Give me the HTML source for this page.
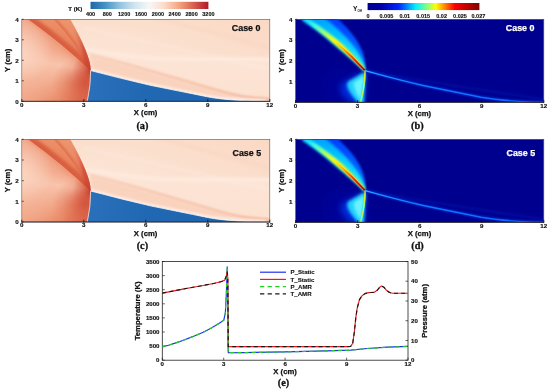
<!DOCTYPE html>
<html><head><meta charset="utf-8"><title>Figure</title>
<style>
html,body{margin:0;padding:0;background:#fff;}
body{width:550px;height:390px;overflow:hidden;}
svg{display:block;}
text{font-family:"Liberation Sans",sans-serif;font-weight:bold;fill:#111;}
.tk{font-size:6.2px;stroke:#111;stroke-width:0.15px;}
.tk2{font-size:6.1px;stroke:#111;stroke-width:0.15px;}
.al{font-size:7.7px;stroke:#111;stroke-width:0.25px;}
.cb{font-size:5.5px;stroke:#111;stroke-width:0.12px;}
.cbt{font-size:6.1px;stroke:#111;stroke-width:0.2px;}
.lg{font-size:6.1px;stroke:#111;stroke-width:0.12px;}
.case{font-size:8.9px;stroke-width:0.25px;}
.cap{font-family:"Liberation Serif",serif;font-size:10.3px;font-weight:bold;stroke:#111;stroke-width:0.3px;}
</style></head><body>
<svg width="550" height="390" viewBox="0 0 550 390">
<rect width="550" height="390" fill="#fff"/>
<defs><linearGradient id="cbT" x1="0" y1="0" x2="1" y2="0">
<stop offset="0.000" stop-color="#2166ac"/>
<stop offset="0.125" stop-color="#4393c3"/>
<stop offset="0.250" stop-color="#92c5de"/>
<stop offset="0.375" stop-color="#d1e5f0"/>
<stop offset="0.500" stop-color="#f7f7f7"/>
<stop offset="0.625" stop-color="#fddbc7"/>
<stop offset="0.750" stop-color="#f4a582"/>
<stop offset="0.875" stop-color="#d6604d"/>
<stop offset="1.000" stop-color="#b2182b"/>
</linearGradient><linearGradient id="cbJ" x1="0" y1="0" x2="1" y2="0">
<stop offset="0" stop-color="#00008F"/>
<stop offset="0.12" stop-color="#0000A8"/>
<stop offset="0.28" stop-color="#0028FF"/>
<stop offset="0.43" stop-color="#00F0FF"/>
<stop offset="0.53" stop-color="#80FF80"/>
<stop offset="0.61" stop-color="#FFFF00"/>
<stop offset="0.78" stop-color="#FF0000"/>
<stop offset="1" stop-color="#800000"/>
</linearGradient></defs>
<rect x="90.5" y="1.8" width="117.9" height="7.2" fill="url(#cbT)"/>
<text x="90.5" y="15.7" class="cb" text-anchor="middle">400</text>
<text x="107.3" y="15.7" class="cb" text-anchor="middle">800</text>
<text x="124.2" y="15.7" class="cb" text-anchor="middle">1200</text>
<text x="141.0" y="15.7" class="cb" text-anchor="middle">1600</text>
<text x="157.9" y="15.7" class="cb" text-anchor="middle">2000</text>
<text x="174.7" y="15.7" class="cb" text-anchor="middle">2400</text>
<text x="191.6" y="15.7" class="cb" text-anchor="middle">2800</text>
<text x="208.4" y="15.7" class="cb" text-anchor="middle">3200</text>
<text x="75.3" y="10.7" class="cbt" text-anchor="middle">T (K)</text>
<rect x="367.6" y="3.0" width="111.8" height="7.1" fill="url(#cbJ)"/>
<text x="368.0" y="17.8" class="cb" text-anchor="middle">0</text>
<text x="386.4" y="17.8" class="cb" text-anchor="middle">0.005</text>
<text x="404.8" y="17.8" class="cb" text-anchor="middle">0.01</text>
<text x="423.2" y="17.8" class="cb" text-anchor="middle">0.015</text>
<text x="441.6" y="17.8" class="cb" text-anchor="middle">0.02</text>
<text x="460.0" y="17.8" class="cb" text-anchor="middle">0.025</text>
<text x="478.4" y="17.8" class="cb" text-anchor="middle">0.027</text>
<text x="353" y="11.1" style="font-size:6.7px">Y<tspan font-size="3" dy="1.2">OH</tspan></text>
<g transform="translate(21.8,19.3)">
<defs><clipPath id="paf"><rect x="0" y="0" width="248.0" height="82.0"/></clipPath>
<clipPath id="pal"><path d="M0.00,82.00 L65.51,82.00 Q69.03,65.60 68.82,51.25 Q69.44,36.90 48.36,0.00 L0.00,0.00 Z"/></clipPath>
<radialGradient id="parg" cx="68.8" cy="51.2" r="18.6" gradientUnits="userSpaceOnUse"><stop offset="0" stop-color="#C43C2C" stop-opacity="1"/><stop offset="0.4" stop-color="#CE4A36" stop-opacity="0.55"/><stop offset="1" stop-color="#D8583F" stop-opacity="0"/></radialGradient>
<radialGradient id="pabg" cx="0" cy="0" r="1" gradientTransform="translate(63.0,63.5) scale(33.1,26.7)" gradientUnits="userSpaceOnUse"><stop offset="0" stop-color="#D0503A" stop-opacity="0.85"/><stop offset="0.3" stop-color="#D4563E" stop-opacity="0.6"/><stop offset="0.65" stop-color="#D95F44" stop-opacity="0.25"/><stop offset="1" stop-color="#DD6648" stop-opacity="0"/></radialGradient>
<linearGradient id="pale" x1="0" y1="0" x2="33.1" y2="0" gradientUnits="userSpaceOnUse"><stop offset="0" stop-color="#FFE9DF" stop-opacity="0.08"/><stop offset="1" stop-color="#FFE9DF" stop-opacity="0"/></linearGradient>
<linearGradient id="patp" x1="0" y1="0" x2="0" y2="32.8" gradientUnits="userSpaceOnUse"><stop offset="0" stop-color="#FFE4D6" stop-opacity="0.18"/><stop offset="1" stop-color="#FFE4D6" stop-opacity="0"/></linearGradient>
<linearGradient id="parb" x1="0" y1="0" x2="0" y2="82.0" gradientUnits="userSpaceOnUse"><stop offset="0" stop-color="#FBDFCD"/><stop offset="0.45" stop-color="#FCE5D6"/><stop offset="1" stop-color="#FCE1D0"/></linearGradient>
<linearGradient id="pabl" x1="68.2" y1="51.2" x2="186.0" y2="82.0" gradientUnits="userSpaceOnUse"><stop offset="0" stop-color="#2A70BA"/><stop offset="0.5" stop-color="#2168B2"/><stop offset="1" stop-color="#1F64AE"/></linearGradient>
<filter id="pab0" x="-50%" y="-50%" width="200%" height="200%"><feGaussianBlur stdDeviation="0.45"/></filter>
<filter id="pab1" x="-50%" y="-50%" width="200%" height="200%"><feGaussianBlur stdDeviation="0.8"/></filter>
<filter id="pab2" x="-50%" y="-50%" width="200%" height="200%"><feGaussianBlur stdDeviation="1.8"/></filter>
<filter id="pab3" x="-50%" y="-50%" width="200%" height="200%"><feGaussianBlur stdDeviation="3.5"/></filter>
</defs>
<g clip-path="url(#paf)">
<rect x="0" y="0" width="248.0" height="82.0" fill="url(#parb)"/>
<linearGradient id="paur" x1="103.3" y1="45.1" x2="248.0" y2="0" gradientUnits="userSpaceOnUse"><stop offset="0" stop-color="#F9D3BC" stop-opacity="0"/><stop offset="1" stop-color="#F9D3BC" stop-opacity="0.5"/></linearGradient>
<rect x="0" y="0" width="248.0" height="38.9" fill="url(#paur)"/>
<linearGradient id="pasc" x1="68.2" y1="0" x2="248.0" y2="0" gradientUnits="userSpaceOnUse"><stop offset="0" stop-color="#F2B097" stop-opacity="0.35"/><stop offset="0.4" stop-color="#F2B097" stop-opacity="0.7"/><stop offset="1" stop-color="#EFA488" stop-opacity="0.95"/></linearGradient>
<path d="M134.33,-2.05 L252.13,29.73" stroke="#F8CDB9" stroke-width="2.2" fill="none" filter="url(#pab2)" opacity="0.4"/>
<path d="M62.00,8.20 L252.13,51.25" stroke="#FEF0E8" stroke-width="3" fill="none" filter="url(#pab2)" opacity="0.3"/>
<path d="M62.00,29.73 Q113.67,38.95 144.67,39.36 L252.13,39.36" fill="none" stroke="#FFF1E6" stroke-width="3.2" filter="url(#pab2)" opacity="0.6"/>
<path d="M68.20,34.85 C103.33,43.05 155.00,59.04 191.79,69.70 S227.33,76.88 250.07,79.95 L250.07,86.10 L68.82,86.10 L68.82,51.25 Z" fill="#F9D1BB" filter="url(#pab2)" opacity="0.85"/>
<path d="M68.20,34.85 C103.33,43.05 155.00,59.04 191.79,69.70 S227.33,76.88 250.07,79.95" fill="none" stroke="url(#pasc)" stroke-width="1.5" filter="url(#pab1)"/>
<path d="M68.82,51.25 C88.87,56.38 108.50,61.50 128.55,66.01 C146.73,69.70 165.33,73.39 185.38,77.43 C198.40,79.95 214.93,81.39 243.87,82.20" fill="none" stroke="#FEF1EA" stroke-width="2.6" transform="translate(0,-0.8)" filter="url(#pab1)" opacity="0.9"/>
<g clip-path="url(#pal)">
<g filter="url(#pab1)">
<path d="M69.23,51.25L82.43,173.51L78.98,173.84Z" fill="#D75C41"/>
<path d="M69.23,51.25L80.27,173.72L76.82,173.99Z" fill="#D75C41"/>
<path d="M69.23,51.25L78.12,173.90L74.66,174.11Z" fill="#D75C41"/>
<path d="M69.23,51.25L75.96,174.05L72.50,174.20Z" fill="#D75C41"/>
<path d="M69.23,51.25L73.80,174.15L70.33,174.24Z" fill="#D75C41"/>
<path d="M69.23,51.25L71.63,174.22L68.17,174.25Z" fill="#D75C41"/>
<path d="M69.23,51.25L69.47,174.25L66.01,174.22Z" fill="#D75C41"/>
<path d="M69.23,51.25L67.31,174.24L63.84,174.15Z" fill="#D75C41"/>
<path d="M69.23,51.25L65.14,174.20L61.68,174.05Z" fill="#D75C41"/>
<path d="M69.23,51.25L62.98,174.11L59.52,173.90Z" fill="#D75C41"/>
<path d="M69.23,51.25L60.82,173.99L57.37,173.72Z" fill="#D75C41"/>
<path d="M69.23,51.25L58.66,173.84L55.21,173.51Z" fill="#D75C41"/>
<path d="M69.23,51.25L56.50,173.64L53.06,173.25Z" fill="#D75C41"/>
<path d="M69.23,51.25L54.35,173.41L50.92,172.96Z" fill="#D75C41"/>
<path d="M69.23,51.25L52.21,173.14L48.78,172.63Z" fill="#D75C41"/>
<path d="M69.23,51.25L50.06,172.83L46.65,172.27Z" fill="#D75C41"/>
<path d="M69.23,51.25L47.93,172.49L44.52,171.87Z" fill="#D75C41"/>
<path d="M69.23,51.25L45.80,172.11L42.40,171.43Z" fill="#D85D42"/>
<path d="M69.23,51.25L43.67,171.69L40.29,170.95Z" fill="#D85E42"/>
<path d="M69.23,51.25L41.56,171.24L38.19,170.44Z" fill="#D85F43"/>
<path d="M69.23,51.25L39.45,170.75L36.10,169.89Z" fill="#D85F43"/>
<path d="M69.23,51.25L37.35,170.22L34.02,169.31Z" fill="#D96044"/>
<path d="M69.23,51.25L35.27,169.66L31.95,168.69Z" fill="#D96144"/>
<path d="M69.23,51.25L33.19,169.06L29.88,168.03Z" fill="#DA6245"/>
<path d="M69.23,51.25L31.12,168.43L27.84,167.34Z" fill="#DA6245"/>
<path d="M69.23,51.25L29.06,167.76L25.80,166.61Z" fill="#DA6346"/>
<path d="M69.23,51.25L27.02,167.05L23.78,165.85Z" fill="#DA6446"/>
<path d="M69.23,51.25L24.99,166.31L21.77,165.05Z" fill="#DB6547"/>
<path d="M69.23,51.25L22.97,165.53L19.77,164.22Z" fill="#DB6648"/>
<path d="M69.23,51.25L20.97,164.72L17.79,163.35Z" fill="#DC6748"/>
<path d="M69.23,51.25L18.98,163.88L15.83,162.45Z" fill="#DC684A"/>
<path d="M69.23,51.25L17.00,163.00L13.88,161.52Z" fill="#DD6A4A"/>
<path d="M69.23,51.25L15.05,162.08L11.95,160.55Z" fill="#DD6B4C"/>
<path d="M69.23,51.25L13.10,161.13L10.03,159.55Z" fill="#DE6C4C"/>
<path d="M69.23,51.25L11.18,160.15L8.14,158.51Z" fill="#DE6E4E"/>
<path d="M69.23,51.25L9.27,159.14L6.26,157.45Z" fill="#DF6F4E"/>
<path d="M69.23,51.25L7.38,158.09L4.40,156.35Z" fill="#E07050"/>
<path d="M69.23,51.25L5.51,157.01L2.56,155.22Z" fill="#E07150"/>
<path d="M69.23,51.25L3.66,155.90L0.74,154.05Z" fill="#E17352"/>
<path d="M69.23,51.25L1.83,154.76L-1.06,152.86Z" fill="#E17452"/>
<path d="M69.23,51.25L0.02,153.58L-2.83,151.63Z" fill="#E27554"/>
<path d="M69.23,51.25L-1.77,152.37L-4.59,150.38Z" fill="#E27755"/>
<path d="M69.23,51.25L-3.54,151.14L-6.32,149.09Z" fill="#E37856"/>
<path d="M69.23,51.25L-5.29,149.87L-8.03,147.78Z" fill="#E37A57"/>
<path d="M69.23,51.25L-7.01,148.57L-9.72,146.43Z" fill="#E47B59"/>
<path d="M69.23,51.25L-8.71,147.24L-11.38,145.06Z" fill="#E47D5A"/>
<path d="M69.23,51.25L-10.39,145.89L-13.02,143.66Z" fill="#E57E5C"/>
<path d="M69.23,51.25L-12.04,144.50L-14.63,142.22Z" fill="#E6805D"/>
<path d="M69.23,51.25L-13.67,143.09L-16.22,140.77Z" fill="#E6825E"/>
<path d="M69.23,51.25L-15.27,141.64L-17.78,139.28Z" fill="#E78360"/>
<path d="M69.23,51.25L-16.85,140.17L-19.32,137.77Z" fill="#E78561"/>
<path d="M69.23,51.25L-18.40,138.68L-20.83,136.23Z" fill="#E88663"/>
<path d="M69.23,51.25L-19.93,137.16L-22.31,134.66Z" fill="#E88864"/>
<path d="M69.23,51.25L-21.42,135.61L-23.76,133.07Z" fill="#E98965"/>
<path d="M69.23,51.25L-22.89,134.03L-25.19,131.46Z" fill="#E98B67"/>
<path d="M69.23,51.25L-24.34,132.43L-26.59,129.82Z" fill="#EA8C68"/>
<path d="M69.23,51.25L-25.75,130.81L-27.95,128.15Z" fill="#EA8D6A"/>
<path d="M69.23,51.25L-27.14,129.16L-29.29,126.47Z" fill="#EA8F6C"/>
<path d="M69.23,51.25L-28.49,127.48L-30.60,124.76Z" fill="#EB906D"/>
<path d="M69.23,51.25L-29.82,125.79L-31.88,123.03Z" fill="#EB916F"/>
<path d="M69.23,51.25L-31.12,124.07L-33.13,121.27Z" fill="#EC9370"/>
<path d="M69.23,51.25L-32.38,122.33L-34.34,119.50Z" fill="#EC9472"/>
<path d="M69.23,51.25L-33.62,120.56L-35.53,117.70Z" fill="#ED9673"/>
<path d="M69.23,51.25L-34.82,118.78L-36.68,115.88Z" fill="#ED9775"/>
<path d="M69.23,51.25L-35.99,116.98L-37.80,114.05Z" fill="#EE9876"/>
<path d="M69.23,51.25L-37.13,115.15L-38.89,112.19Z" fill="#EE9A78"/>
<path d="M69.23,51.25L-38.24,113.31L-39.95,110.32Z" fill="#EE9B7A"/>
<path d="M69.23,51.25L-39.32,111.44L-40.97,108.43Z" fill="#EF9C7B"/>
<path d="M69.23,51.25L-40.36,109.56L-41.96,106.52Z" fill="#EF9E7D"/>
<path d="M69.23,51.25L-41.37,107.66L-42.91,104.59Z" fill="#EF9F7E"/>
<path d="M69.23,51.25L-42.34,105.75L-43.84,102.65Z" fill="#F0A07F"/>
<path d="M69.23,51.25L-43.29,103.82L-44.72,100.69Z" fill="#F0A181"/>
<path d="M69.23,51.25L-44.19,101.87L-45.57,98.72Z" fill="#F0A282"/>
<path d="M69.23,51.25L-45.07,99.90L-46.39,96.73Z" fill="#F1A383"/>
<path d="M69.23,51.25L-45.91,97.92L-47.18,94.73Z" fill="#F1A485"/>
<path d="M69.23,51.25L-46.71,95.93L-47.92,92.71Z" fill="#F1A686"/>
<path d="M69.23,51.25L-47.48,93.92L-48.63,90.69Z" fill="#F1A788"/>
<path d="M69.23,51.25L-48.21,91.90L-49.31,88.65Z" fill="#F2A889"/>
<path d="M69.23,51.25L-48.91,89.87L-49.95,86.60Z" fill="#F2A98A"/>
<path d="M69.23,51.25L-49.57,87.83L-50.55,84.53Z" fill="#F2AA8C"/>
<path d="M69.23,51.25L-50.20,85.77L-51.12,82.46Z" fill="#F3AB8D"/>
<path d="M69.23,51.25L-50.79,83.71L-51.65,80.38Z" fill="#F3AC8E"/>
<path d="M69.23,51.25L-51.34,81.63L-52.15,78.29Z" fill="#F3AD90"/>
<path d="M69.23,51.25L-51.85,79.55L-52.60,76.19Z" fill="#F3AE91"/>
<path d="M69.23,51.25L-52.33,77.45L-53.02,74.09Z" fill="#F4AF92"/>
<path d="M69.23,51.25L-52.78,75.35L-53.41,71.97Z" fill="#F4B093"/>
<path d="M69.23,51.25L-53.18,73.24L-53.75,69.86Z" fill="#F4B194"/>
<path d="M69.23,51.25L-53.55,71.13L-54.06,67.73Z" fill="#F4B295"/>
<path d="M69.23,51.25L-53.88,69.01L-54.33,65.60Z" fill="#F4B396"/>
<path d="M69.23,51.25L-54.17,66.88L-54.57,63.47Z" fill="#F5B498"/>
<path d="M69.23,51.25L-54.43,64.75L-54.76,61.33Z" fill="#F5B599"/>
<path d="M69.23,51.25L-54.65,62.61L-54.92,59.19Z" fill="#F5B69A"/>
<path d="M69.23,51.25L-54.83,60.47L-55.04,57.04Z" fill="#F5B79B"/>
<path d="M69.23,51.25L-54.97,58.33L-55.13,54.90Z" fill="#F5B89C"/>
<path d="M69.23,51.25L-55.08,56.19L-55.17,52.75Z" fill="#F6B99D"/>
<path d="M69.23,51.25L-55.15,54.04L-55.18,50.61Z" fill="#F6BA9E"/>
<path d="M69.23,51.25L-55.18,51.89L-55.15,48.46Z" fill="#F6BAA0"/>
<path d="M69.23,51.25L-55.17,49.75L-55.08,46.31Z" fill="#F6BBA1"/>
<path d="M69.23,51.25L-55.13,47.60L-54.97,44.17Z" fill="#F6BCA2"/>
<path d="M69.23,51.25L-55.04,45.46L-54.83,42.03Z" fill="#F7BDA3"/>
<path d="M69.23,51.25L-54.92,43.31L-54.65,39.89Z" fill="#F7BEA4"/>
<path d="M69.23,51.25L-54.76,41.17L-54.43,37.75Z" fill="#F7BFA5"/>
<path d="M69.23,51.25L-54.57,39.03L-54.17,35.62Z" fill="#F7C0A6"/>
<path d="M69.23,51.25L-54.33,36.90L-53.88,33.49Z" fill="#F8C1A7"/>
<path d="M69.23,51.25L-54.06,34.77L-53.55,31.37Z" fill="#F8C2A8"/>
<path d="M69.23,51.25L-53.75,32.64L-53.18,29.26Z" fill="#F8C3A9"/>
<path d="M69.23,51.25L-53.41,30.53L-52.78,27.15Z" fill="#F8C2A9"/>
<path d="M69.23,51.25L-53.02,28.41L-52.33,25.05Z" fill="#F8C2A8"/>
<path d="M69.23,51.25L-52.60,26.31L-51.85,22.95Z" fill="#F7C0A7"/>
<path d="M69.23,51.25L-52.15,24.21L-51.34,20.87Z" fill="#F7C0A6"/>
<path d="M69.23,51.25L-51.65,22.12L-50.79,18.79Z" fill="#F7BEA4"/>
<path d="M69.23,51.25L-51.12,20.04L-50.20,16.73Z" fill="#F6BEA3"/>
<path d="M69.23,51.25L-50.55,17.97L-49.57,14.67Z" fill="#F6BCA2"/>
<path d="M69.23,51.25L-49.95,15.90L-48.91,12.63Z" fill="#F6BBA0"/>
<path d="M69.23,51.25L-49.31,13.85L-48.21,10.60Z" fill="#F6BA9E"/>
<path d="M69.23,51.25L-48.63,11.81L-47.48,8.58Z" fill="#F5B89D"/>
<path d="M69.23,51.25L-47.92,9.79L-46.71,6.57Z" fill="#F5B69B"/>
<path d="M69.23,51.25L-47.18,7.77L-45.91,4.58Z" fill="#F5B599"/>
<path d="M69.23,51.25L-46.39,5.77L-45.07,2.60Z" fill="#F4B398"/>
<path d="M69.23,51.25L-45.57,3.78L-44.19,0.63Z" fill="#F4B296"/>
<path d="M69.23,51.25L-44.72,1.81L-43.29,-1.32Z" fill="#F4B094"/>
<path d="M69.23,51.25L-43.84,-0.15L-42.34,-3.25Z" fill="#F4AF92"/>
<path d="M69.23,51.25L-42.91,-2.09L-41.37,-5.16Z" fill="#F3AD91"/>
<path d="M69.23,51.25L-41.96,-4.02L-40.36,-7.06Z" fill="#F3AC8F"/>
<path d="M69.23,51.25L-40.97,-5.93L-39.32,-8.94Z" fill="#F3AB8D"/>
<path d="M69.23,51.25L-39.95,-7.82L-38.24,-10.81Z" fill="#F2A98C"/>
<path d="M69.23,51.25L-38.89,-9.69L-37.13,-12.65Z" fill="#F2A88A"/>
<path d="M69.23,51.25L-37.80,-11.55L-35.99,-14.48Z" fill="#F2A688"/>
<path d="M69.23,51.25L-36.68,-13.38L-34.82,-16.28Z" fill="#F1A586"/>
<path d="M69.23,51.25L-35.53,-15.20L-33.62,-18.06Z" fill="#F1A384"/>
<path d="M69.23,51.25L-34.34,-17.00L-32.38,-19.83Z" fill="#F0A283"/>
<path d="M69.23,51.25L-33.13,-18.77L-31.12,-21.57Z" fill="#F0A081"/>
<path d="M69.23,51.25L-31.88,-20.53L-29.82,-23.29Z" fill="#EF9F7F"/>
<path d="M69.23,51.25L-30.60,-22.26L-28.49,-24.98Z" fill="#EF9D7D"/>
<path d="M69.23,51.25L-29.29,-23.97L-27.14,-26.66Z" fill="#EE9C7B"/>
<path d="M69.23,51.25L-27.95,-25.65L-25.75,-28.31Z" fill="#EE9A79"/>
<path d="M69.23,51.25L-26.59,-27.32L-24.34,-29.93Z" fill="#ED9977"/>
<path d="M69.23,51.25L-25.19,-28.96L-22.89,-31.53Z" fill="#ED9876"/>
<path d="M69.23,51.25L-23.76,-30.57L-21.42,-33.11Z" fill="#ED9876"/>
<path d="M69.23,51.25L-22.31,-32.16L-19.93,-34.66Z" fill="#ED9876"/>
<path d="M69.23,51.25L-20.83,-33.73L-18.40,-36.18Z" fill="#ED9876"/>
<path d="M69.23,51.25L-19.32,-35.27L-16.85,-37.67Z" fill="#ED9876"/>
<path d="M69.23,51.25L-17.78,-36.78L-15.27,-39.14Z" fill="#ED9876"/>
<path d="M69.23,51.25L-16.22,-38.27L-13.67,-40.59Z" fill="#ED9876"/>
<path d="M69.23,51.25L-14.63,-39.72L-12.04,-42.00Z" fill="#ED9876"/>
<path d="M69.23,51.25L-13.02,-41.16L-10.39,-43.39Z" fill="#ED9876"/>
<path d="M69.23,51.25L-11.38,-42.56L-8.71,-44.74Z" fill="#ED9876"/>
<path d="M69.23,51.25L-9.72,-43.93L-7.01,-46.07Z" fill="#ED9876"/>
<path d="M69.23,51.25L-8.03,-45.28L-5.29,-47.37Z" fill="#ED9876"/>
<path d="M69.23,51.25L-6.32,-46.59L-3.54,-48.64Z" fill="#ED9876"/>
<path d="M69.23,51.25L-4.59,-47.88L-1.77,-49.87Z" fill="#ED9876"/>
<path d="M69.23,51.25L-2.83,-49.13L0.02,-51.08Z" fill="#ED9876"/>
<path d="M69.23,51.25L-1.06,-50.36L1.83,-52.26Z" fill="#ED9876"/>
<path d="M69.23,51.25L0.74,-51.55L3.66,-53.40Z" fill="#ED9876"/>
<path d="M69.23,51.25L2.56,-52.72L5.51,-54.51Z" fill="#ED9876"/>
<path d="M69.23,51.25L4.40,-53.85L7.38,-55.59Z" fill="#ED9876"/>
<path d="M69.23,51.25L6.26,-54.95L9.27,-56.64Z" fill="#ED9876"/>
<path d="M69.23,51.25L8.14,-56.01L11.18,-57.65Z" fill="#ED9876"/>
<path d="M69.23,51.25L10.03,-57.05L13.10,-58.63Z" fill="#ED9876"/>
<path d="M69.23,51.25L11.95,-58.05L15.05,-59.58Z" fill="#ED9876"/>
<path d="M69.23,51.25L13.88,-59.02L17.00,-60.50Z" fill="#ED9876"/>
<path d="M69.23,51.25L15.83,-59.95L18.98,-61.38Z" fill="#ED9876"/>
<path d="M69.23,51.25L17.79,-60.85L20.97,-62.22Z" fill="#ED9876"/>
<path d="M69.23,51.25L19.77,-61.72L22.97,-63.03Z" fill="#ED9876"/>
<path d="M69.23,51.25L21.77,-62.55L24.99,-63.81Z" fill="#ED9876"/>
<path d="M69.23,51.25L23.78,-63.35L27.02,-64.55Z" fill="#ED9876"/>
<path d="M69.23,51.25L25.80,-64.11L29.06,-65.26Z" fill="#ED9876"/>
<path d="M69.23,51.25L27.84,-64.84L31.12,-65.93Z" fill="#ED9876"/>
<path d="M69.23,51.25L29.88,-65.53L33.19,-66.56Z" fill="#ED9876"/>
<path d="M69.23,51.25L31.95,-66.19L35.27,-67.16Z" fill="#ED9876"/>
<path d="M69.23,51.25L34.02,-66.81L37.35,-67.72Z" fill="#ED9876"/>
<path d="M69.23,51.25L36.10,-67.39L39.45,-68.25Z" fill="#ED9876"/>
<path d="M69.23,51.25L38.19,-67.94L41.56,-68.74Z" fill="#ED9876"/>
<path d="M69.23,51.25L40.29,-68.45L43.67,-69.19Z" fill="#ED9876"/>
<path d="M69.23,51.25L42.40,-68.93L45.80,-69.61Z" fill="#ED9876"/>
<path d="M69.23,51.25L44.52,-69.37L47.93,-69.99Z" fill="#ED9876"/>
<path d="M69.23,51.25L46.65,-69.77L50.06,-70.33Z" fill="#ED9876"/>
<path d="M69.23,51.25L48.78,-70.13L52.21,-70.64Z" fill="#ED9876"/>
<path d="M69.23,51.25L50.92,-70.46L54.35,-70.91Z" fill="#ED9876"/>
<path d="M69.23,51.25L53.06,-70.75L56.50,-71.14Z" fill="#ED9876"/>
<path d="M69.23,51.25L55.21,-71.01L58.66,-71.34Z" fill="#ED9876"/>
<path d="M69.23,51.25L57.37,-71.22L60.82,-71.49Z" fill="#ED9876"/>
</g>
<rect x="0" y="0" width="248.0" height="82.0" fill="url(#pabg)"/>
<radialGradient id="pall" cx="0" cy="0" r="1" gradientTransform="translate(-4.1,32.8) scale(35.1,30.8)" gradientUnits="userSpaceOnUse"><stop offset="0" stop-color="#FDDCCB" stop-opacity="0.75"/><stop offset="0.5" stop-color="#FDDCCB" stop-opacity="0.4"/><stop offset="1" stop-color="#FDDCCB" stop-opacity="0"/></radialGradient>
<rect x="0" y="0" width="248.0" height="82.0" fill="url(#pall)"/>
<rect x="0" y="0" width="248.0" height="82.0" fill="url(#pale)"/>
<rect x="0" y="0" width="248.0" height="82.0" fill="url(#patp)"/>
<clipPath id="paw"><path d="M6.20,-0.41 Q42.37,25.62 68.82,51.25 L74.40,51.25 L74.40,-12.30 L-8.27,-12.30 L-8.27,-10.87 Z"/></clipPath><clipPath id="pawb"><path d="M31.62,-0.41 Q54.77,23.57 68.82,51.25 L74.40,51.25 L74.40,-12.30 L20.67,-12.30 L20.67,-11.69 Z"/></clipPath>
<linearGradient id="pawg" x1="0" y1="0" x2="0" y2="51.2" gradientUnits="userSpaceOnUse"><stop offset="0" stop-color="#EC9068"/><stop offset="0.5" stop-color="#E8825C"/><stop offset="1" stop-color="#DC6848"/></linearGradient>
<path d="M-8.27,-10.87 L6.20,-0.41 Q42.37,25.62 68.82,51.25" fill="none" stroke="#EE9674" stroke-width="3.5" filter="url(#pab1)" opacity="0.7"/>
<g filter="url(#pab0)"><g clip-path="url(#paw)">
<path d="M6.20,-0.41 Q42.37,25.62 68.82,51.25 L74.40,51.25 L74.40,-12.30 L-8.27,-12.30 L-8.27,-10.87 Z" fill="url(#pawg)"/>
<path d="M-8.27,-10.87 L6.20,-0.41 Q42.37,25.62 68.82,51.25" fill="none" stroke="#D95E40" stroke-width="10" filter="url(#pab2)"/>
<path d="M-8.27,-10.87 L6.20,-0.41 Q42.37,25.62 68.82,51.25" fill="none" stroke="#D95E40" stroke-width="2.5" filter="url(#pab0)" opacity="0.7"/>
<g clip-path="url(#pawb)">
<path d="M31.62,-0.41 Q54.77,23.57 68.82,51.25 L74.40,51.25 L74.40,-12.30 L20.67,-12.30 L20.67,-11.69 Z" fill="#F0A07C" opacity="0.3"/>
<path d="M20.67,-11.69 L31.62,-0.41 Q54.77,23.57 68.82,51.25" fill="none" stroke="#D95F41" stroke-width="4.5" filter="url(#pab1)" opacity="0.6"/>
</g>
<linearGradient id="pacr" x1="68.8" y1="51.2" x2="51.7" y2="6.1" gradientUnits="userSpaceOnUse"><stop offset="0" stop-color="#C9412F" stop-opacity="1"/><stop offset="0.5" stop-color="#D3513A" stop-opacity="0.9"/><stop offset="1" stop-color="#E27050" stop-opacity="0"/></linearGradient>
<path d="M70.27,53.30 Q71.09,36.90 50.01,0.00 L45.47,0.00 Q64.07,32.80 63.03,51.25 Z" fill="url(#pacr)" filter="url(#pab1)"/>
</g></g>
<circle cx="68.8" cy="51.2" r="18.6" fill="url(#parg)"/>
</g>
<path d="M65.51,82.00 Q69.03,65.60 68.82,51.25 C88.87,56.38 108.50,61.50 128.55,66.01 C146.73,69.70 165.33,73.39 185.38,77.43 C198.40,79.95 214.93,81.39 243.87,82.20 L243.87,86.10 L65.51,86.10 Z" fill="url(#pabl)"/>
<path d="M68.82,51.25 C88.87,56.38 108.50,61.50 128.55,66.01 C146.73,69.70 165.33,73.39 185.38,77.43 C198.40,79.95 214.93,81.39 243.87,82.20" fill="none" stroke="#FFFFFF" stroke-width="0.9" opacity="0.85"/>
<path d="M65.51,82.00 Q69.03,65.60 68.82,51.25" fill="none" stroke="#F6DDD0" stroke-width="0.8"/>
</g>
<rect x="0" y="0" width="248.0" height="82.0" fill="none" stroke="#555" stroke-width="0.6"/>
</g>
<line x1="21.8" y1="99.0" x2="21.8" y2="102.1" stroke="#111" stroke-width="0.8"/>
<text x="21.8" y="106.7" class="tk" text-anchor="middle">0</text>
<line x1="83.8" y1="99.0" x2="83.8" y2="102.1" stroke="#111" stroke-width="0.8"/>
<text x="83.8" y="106.7" class="tk" text-anchor="middle">3</text>
<line x1="145.8" y1="99.0" x2="145.8" y2="102.1" stroke="#111" stroke-width="0.8"/>
<text x="145.8" y="106.7" class="tk" text-anchor="middle">6</text>
<line x1="207.8" y1="99.0" x2="207.8" y2="102.1" stroke="#111" stroke-width="0.8"/>
<text x="207.8" y="106.7" class="tk" text-anchor="middle">9</text>
<line x1="269.8" y1="99.0" x2="269.8" y2="102.1" stroke="#111" stroke-width="0.8"/>
<text x="269.8" y="106.7" class="tk" text-anchor="middle">12</text>
<line x1="21.8" y1="101.3" x2="23.8" y2="101.3" stroke="#222" stroke-width="0.7"/>
<text x="18.7" y="103.6" class="tk" text-anchor="end">0</text>
<line x1="21.8" y1="80.8" x2="23.8" y2="80.8" stroke="#222" stroke-width="0.7"/>
<text x="18.7" y="83.1" class="tk" text-anchor="end">1</text>
<line x1="21.8" y1="60.3" x2="23.8" y2="60.3" stroke="#222" stroke-width="0.7"/>
<text x="18.7" y="62.6" class="tk" text-anchor="end">2</text>
<line x1="21.8" y1="39.8" x2="23.8" y2="39.8" stroke="#222" stroke-width="0.7"/>
<text x="18.7" y="42.1" class="tk" text-anchor="end">3</text>
<line x1="21.8" y1="19.3" x2="23.8" y2="19.3" stroke="#222" stroke-width="0.7"/>
<text x="18.7" y="21.6" class="tk" text-anchor="end">4</text>
<line x1="21.8" y1="101.3" x2="269.8" y2="101.3" stroke="#1a1a2a" stroke-width="0.8"/>
<text x="145.6" y="115.2" class="al" text-anchor="middle">X (cm)</text>
<text transform="translate(9.8,60.3) rotate(-90)" class="al" text-anchor="middle">Y (cm)</text>
<text x="142.4" y="128.7" class="cap" text-anchor="middle">(a)</text>
<text x="246.1" y="31.3" class="case" style="fill:#111;stroke:#111" text-anchor="middle">Case 0</text>
<g transform="translate(295.5,19.3)">
<defs><clipPath id="pbf"><rect x="0" y="0" width="248.3" height="83.0"/></clipPath>
<filter id="pbb0" x="-50%" y="-50%" width="200%" height="200%"><feGaussianBlur stdDeviation="0.4"/></filter>
<filter id="pbb1" x="-50%" y="-50%" width="200%" height="200%"><feGaussianBlur stdDeviation="0.8"/></filter>
<filter id="pbb2" x="-50%" y="-50%" width="200%" height="200%"><feGaussianBlur stdDeviation="1.5"/></filter>
<filter id="pbb3" x="-50%" y="-50%" width="200%" height="200%"><feGaussianBlur stdDeviation="3.0"/></filter>
<filter id="pbb4" x="-50%" y="-50%" width="200%" height="200%"><feGaussianBlur stdDeviation="6.0"/></filter>
<linearGradient id="pbc1" x1="12.4" y1="0.0" x2="69.5" y2="51.3" gradientUnits="userSpaceOnUse"><stop offset="0" stop-color="#30E8FF" stop-opacity="0"/><stop offset="0.2" stop-color="#90FF80" stop-opacity="0.15"/><stop offset="0.35" stop-color="#E0FF30" stop-opacity="0.6"/><stop offset="0.46" stop-color="#FFF000" stop-opacity="1"/><stop offset="0.62" stop-color="#FFA000" stop-opacity="1"/><stop offset="0.76" stop-color="#FF3000" stop-opacity="1"/><stop offset="0.92" stop-color="#D00000" stop-opacity="1"/><stop offset="1" stop-color="#A00000" stop-opacity="1"/></linearGradient>
<linearGradient id="pbc2" x1="12.4" y1="0.0" x2="69.5" y2="51.3" gradientUnits="userSpaceOnUse"><stop offset="0" stop-color="#10D8FF" stop-opacity="1"/><stop offset="0.12" stop-color="#40FFE0" stop-opacity="1"/><stop offset="0.28" stop-color="#A0FF70" stop-opacity="1"/><stop offset="0.45" stop-color="#F0FF20" stop-opacity="1"/><stop offset="0.7" stop-color="#FFE800" stop-opacity="1"/><stop offset="1" stop-color="#FFD000" stop-opacity="1"/></linearGradient>
<linearGradient id="pbc3" x1="12.4" y1="0.0" x2="69.5" y2="51.3" gradientUnits="userSpaceOnUse"><stop offset="0" stop-color="#00A0FF" stop-opacity="1"/><stop offset="0.3" stop-color="#00C0FF" stop-opacity="1"/><stop offset="0.7" stop-color="#10E0FF" stop-opacity="1"/><stop offset="1" stop-color="#30FFE0" stop-opacity="1"/></linearGradient>
<linearGradient id="pbc4" x1="12.4" y1="0.0" x2="69.5" y2="51.3" gradientUnits="userSpaceOnUse"><stop offset="0" stop-color="#0038F8" stop-opacity="1"/><stop offset="0.4" stop-color="#0048FF" stop-opacity="1"/><stop offset="1" stop-color="#0070FF" stop-opacity="1"/></linearGradient>
<linearGradient id="pbsl" x1="69.5" y1="0" x2="248.3" y2="0" gradientUnits="userSpaceOnUse"><stop offset="0" stop-color="#30B8FF"/><stop offset="0.06" stop-color="#1898FF"/><stop offset="0.35" stop-color="#0C78FF"/><stop offset="1" stop-color="#0860FF"/></linearGradient>
<linearGradient id="pbms" x1="0" y1="51.3" x2="0" y2="83.0" gradientUnits="userSpaceOnUse"><stop offset="0" stop-color="#FF6000"/><stop offset="0.12" stop-color="#FFE000"/><stop offset="0.5" stop-color="#C8FF38"/><stop offset="1" stop-color="#FFD800"/></linearGradient>
</defs>
<g clip-path="url(#pbf)">
<rect x="0" y="0" width="248.3" height="83.0" fill="#00008E"/>
<ellipse cx="47.6" cy="68.5" rx="20.7" ry="18.7" fill="#0010C0" filter="url(#pbb4)" opacity="0.22"/>
<clipPath id="pbcc"><path d="M70.97,52.70 Q74.90,25.94 43.45,-6.22 L-20.69,-6.22 L-20.69,64.33 Z"/></clipPath>
<g clip-path="url(#pbcc)">
<path d="M10.35,-2.07 Q43.45,21.79 69.52,51.25 Q72.83,25.94 39.31,-3.11 Z" fill="url(#pbc4)" filter="url(#pbb1)"/>
<path d="M10.35,-2.07 Q43.45,21.79 69.52,51.25 Q67.25,28.01 26.90,-3.11 Z" fill="url(#pbc3)" filter="url(#pbb2)" opacity="0.9"/>
</g>
<path d="M69.94,51.88 L45.52,64.33 Q41.38,74.70 61.04,87.15 L68.28,87.15 Z" fill="#0040F8" filter="url(#pbb3)" opacity="0.7"/>
<path d="M69.94,51.88 L52.76,62.25 Q47.59,67.44 64.14,85.08 L68.28,85.08 Z" fill="#20D0FF" filter="url(#pbb2)"/>
<path d="M69.52,56.02 L58.97,62.66 Q55.87,66.40 65.18,80.92 Z" fill="#80FFFF" filter="url(#pbb2)" opacity="0.75"/>
<g clip-path="url(#pbcc)">
<path d="M10.41,-5.07 L12.23,-3.94 L14.04,-2.80 L15.83,-1.66 L17.62,-0.51 L19.39,0.65 L21.15,1.82 L22.91,3.00 L24.65,4.18 L26.39,5.37 L28.11,6.57 L29.83,7.78 L31.53,8.99 L33.22,10.22 L34.91,11.45 L36.58,12.69 L38.24,13.93 L39.89,15.19 L41.54,16.45 L43.17,17.72 L44.79,18.99 L46.40,20.28 L48.00,21.57 L49.47,23.01 L50.89,24.50 L52.27,26.02 L53.63,27.56 L54.97,29.11 L56.28,30.68 L57.57,32.27 L58.83,33.87 L60.08,35.48 L61.31,37.10 L62.51,38.74 L63.70,40.38 L64.86,42.04 L66.01,43.70 L67.14,45.38 L68.25,47.06 L69.34,48.75 L70.41,50.44 L68.86,51.86 L67.43,50.51 L65.99,49.17 L64.54,47.84 L63.09,46.51 L61.63,45.19 L60.16,43.87 L58.68,42.56 L57.20,41.26 L55.71,39.96 L54.21,38.66 L52.70,37.37 L51.19,36.09 L49.67,34.81 L48.15,33.53 L46.62,32.26 L45.09,30.98 L43.55,29.71 L42.02,28.43 L40.52,27.11 L39.00,25.79 L37.48,24.48 L35.94,23.18 L34.40,21.89 L32.84,20.60 L31.27,19.32 L29.69,18.04 L28.10,16.78 L26.50,15.52 L24.89,14.26 L23.26,13.01 L21.63,11.77 L19.98,10.54 L18.32,9.31 L16.66,8.09 L14.98,6.88 L13.29,5.68 L11.59,4.48 L9.88,3.28 L8.15,2.10 L6.42,0.92Z" fill="url(#pbc3)" filter="url(#pbb2)"/>
<path d="M9.19,-3.24 L10.97,-2.08 L12.74,-0.91 L14.50,0.26 L16.25,1.44 L17.99,2.63 L19.71,3.83 L21.43,5.04 L23.14,6.25 L24.83,7.47 L26.52,8.69 L28.19,9.93 L29.85,11.17 L31.50,12.42 L33.15,13.67 L34.78,14.94 L36.40,16.21 L38.01,17.48 L39.61,18.77 L41.20,20.06 L42.78,21.36 L44.34,22.67 L45.90,23.98 L47.39,25.36 L48.86,26.77 L50.31,28.19 L51.74,29.62 L53.15,31.07 L54.54,32.53 L55.92,33.99 L57.29,35.47 L58.64,36.96 L59.97,38.45 L61.29,39.96 L62.59,41.47 L63.88,42.99 L65.16,44.52 L66.42,46.06 L67.67,47.60 L68.90,49.15 L70.12,50.71 L69.01,51.72 L67.61,50.35 L66.20,48.98 L64.78,47.61 L63.35,46.25 L61.92,44.90 L60.48,43.56 L59.02,42.22 L57.56,40.89 L56.10,39.56 L54.62,38.24 L53.13,36.92 L51.64,35.61 L50.14,34.31 L48.63,33.01 L47.12,31.71 L45.60,30.41 L44.07,29.12 L42.55,27.82 L41.04,26.50 L39.52,25.19 L37.99,23.88 L36.44,22.58 L34.89,21.29 L33.33,20.00 L31.75,18.72 L30.16,17.44 L28.57,16.18 L26.96,14.92 L25.34,13.67 L23.71,12.42 L22.07,11.18 L20.42,9.95 L18.75,8.72 L17.08,7.50 L15.40,6.29 L13.70,5.09 L11.99,3.89 L10.28,2.70 L8.55,1.51 L6.81,0.34Z" fill="url(#pbc2)" filter="url(#pbb1)"/>
<path d="M7.86,-1.24 Q43.04,22.20 69.52,51.25" fill="none" stroke="url(#pbc1)" stroke-width="1.7" filter="url(#pbb0)"/>
</g>
<path d="M69.52,51.25 Q144.84,65.36 248.30,79.89" fill="none" stroke="#0030D0" stroke-width="1.5" filter="url(#pbb1)" opacity="0.4"/>
<path d="M69.52,51.25 C88.97,56.65 108.63,61.84 128.70,66.40 C146.91,70.14 165.53,73.87 185.60,77.92 C202.78,80.92 223.47,82.38 248.30,83.00" fill="none" stroke="#0038E0" stroke-width="2.6" filter="url(#pbb1)" opacity="0.8"/>
<path d="M69.52,51.25 C88.97,56.65 108.63,61.84 128.70,66.40 C146.91,70.14 165.53,73.87 185.60,77.92 C202.78,80.92 223.47,82.38 248.30,83.00" fill="none" stroke="url(#pbsl)" stroke-width="1.4" filter="url(#pbb0)"/>
<path d="M69.52,51.25 Q69.52,66.40 65.08,83.00" fill="none" stroke="#40FFD0" stroke-width="1.6" filter="url(#pbb0)"/>
<path d="M69.52,51.25 Q69.52,66.40 65.08,83.00" fill="none" stroke="url(#pbms)" stroke-width="0.95"/>
</g>
<rect x="0" y="0" width="248.3" height="83.0" fill="none" stroke="#333" stroke-width="0.6"/>
</g>
<line x1="295.5" y1="100.0" x2="295.5" y2="103.1" stroke="#111" stroke-width="0.8"/>
<text x="295.5" y="107.7" class="tk" text-anchor="middle">0</text>
<line x1="357.6" y1="100.0" x2="357.6" y2="103.1" stroke="#111" stroke-width="0.8"/>
<text x="357.6" y="107.7" class="tk" text-anchor="middle">3</text>
<line x1="419.6" y1="100.0" x2="419.6" y2="103.1" stroke="#111" stroke-width="0.8"/>
<text x="419.6" y="107.7" class="tk" text-anchor="middle">6</text>
<line x1="481.7" y1="100.0" x2="481.7" y2="103.1" stroke="#111" stroke-width="0.8"/>
<text x="481.7" y="107.7" class="tk" text-anchor="middle">9</text>
<line x1="543.8" y1="100.0" x2="543.8" y2="103.1" stroke="#111" stroke-width="0.8"/>
<text x="543.8" y="107.7" class="tk" text-anchor="middle">12</text>
<line x1="295.5" y1="102.3" x2="297.5" y2="102.3" stroke="#222" stroke-width="0.7"/>
<line x1="295.5" y1="81.5" x2="297.5" y2="81.5" stroke="#222" stroke-width="0.7"/>
<text x="292.4" y="83.8" class="tk" text-anchor="end">1</text>
<line x1="295.5" y1="60.8" x2="297.5" y2="60.8" stroke="#222" stroke-width="0.7"/>
<text x="292.4" y="63.1" class="tk" text-anchor="end">2</text>
<line x1="295.5" y1="40.0" x2="297.5" y2="40.0" stroke="#222" stroke-width="0.7"/>
<text x="292.4" y="42.3" class="tk" text-anchor="end">3</text>
<line x1="295.5" y1="19.3" x2="297.5" y2="19.3" stroke="#222" stroke-width="0.7"/>
<text x="292.4" y="21.6" class="tk" text-anchor="end">4</text>
<line x1="295.5" y1="102.3" x2="543.8" y2="102.3" stroke="#1a1a2a" stroke-width="0.8"/>
<text x="419.4" y="116.2" class="al" text-anchor="middle">X (cm)</text>
<text transform="translate(283.5,60.8) rotate(-90)" class="al" text-anchor="middle">Y (cm)</text>
<text x="417.4" y="128.9" class="cap" text-anchor="middle">(b)</text>
<text x="520.1" y="31.3" class="case" style="fill:#fff;stroke:#fff" text-anchor="middle">Case 0</text>
<g transform="translate(21.8,139.3)">
<defs><clipPath id="pcf"><rect x="0" y="0" width="248.0" height="82.7"/></clipPath>
<clipPath id="pcl"><path d="M0.00,82.70 L65.51,82.70 Q69.03,66.16 68.82,51.69 Q69.44,37.21 48.36,0.00 L0.00,0.00 Z"/></clipPath>
<radialGradient id="pcrg" cx="68.8" cy="51.7" r="18.6" gradientUnits="userSpaceOnUse"><stop offset="0" stop-color="#C43C2C" stop-opacity="1"/><stop offset="0.4" stop-color="#CE4A36" stop-opacity="0.55"/><stop offset="1" stop-color="#D8583F" stop-opacity="0"/></radialGradient>
<radialGradient id="pcbg" cx="0" cy="0" r="1" gradientTransform="translate(63.0,64.1) scale(33.1,26.9)" gradientUnits="userSpaceOnUse"><stop offset="0" stop-color="#D0503A" stop-opacity="0.85"/><stop offset="0.3" stop-color="#D4563E" stop-opacity="0.6"/><stop offset="0.65" stop-color="#D95F44" stop-opacity="0.25"/><stop offset="1" stop-color="#DD6648" stop-opacity="0"/></radialGradient>
<linearGradient id="pcle" x1="0" y1="0" x2="33.1" y2="0" gradientUnits="userSpaceOnUse"><stop offset="0" stop-color="#FFE9DF" stop-opacity="0.08"/><stop offset="1" stop-color="#FFE9DF" stop-opacity="0"/></linearGradient>
<linearGradient id="pctp" x1="0" y1="0" x2="0" y2="33.1" gradientUnits="userSpaceOnUse"><stop offset="0" stop-color="#FFE4D6" stop-opacity="0.18"/><stop offset="1" stop-color="#FFE4D6" stop-opacity="0"/></linearGradient>
<linearGradient id="pcrb" x1="0" y1="0" x2="0" y2="82.7" gradientUnits="userSpaceOnUse"><stop offset="0" stop-color="#FBDFCD"/><stop offset="0.45" stop-color="#FCE5D6"/><stop offset="1" stop-color="#FCE1D0"/></linearGradient>
<linearGradient id="pcbl" x1="68.2" y1="51.7" x2="186.0" y2="82.7" gradientUnits="userSpaceOnUse"><stop offset="0" stop-color="#2A70BA"/><stop offset="0.5" stop-color="#2168B2"/><stop offset="1" stop-color="#1F64AE"/></linearGradient>
<filter id="pcb0" x="-50%" y="-50%" width="200%" height="200%"><feGaussianBlur stdDeviation="0.45"/></filter>
<filter id="pcb1" x="-50%" y="-50%" width="200%" height="200%"><feGaussianBlur stdDeviation="0.8"/></filter>
<filter id="pcb2" x="-50%" y="-50%" width="200%" height="200%"><feGaussianBlur stdDeviation="1.8"/></filter>
<filter id="pcb3" x="-50%" y="-50%" width="200%" height="200%"><feGaussianBlur stdDeviation="3.5"/></filter>
</defs>
<g clip-path="url(#pcf)">
<rect x="0" y="0" width="248.0" height="82.7" fill="url(#pcrb)"/>
<linearGradient id="pcur" x1="103.3" y1="45.5" x2="248.0" y2="0" gradientUnits="userSpaceOnUse"><stop offset="0" stop-color="#F9D3BC" stop-opacity="0"/><stop offset="1" stop-color="#F9D3BC" stop-opacity="0.5"/></linearGradient>
<rect x="0" y="0" width="248.0" height="39.3" fill="url(#pcur)"/>
<linearGradient id="pcsc" x1="68.2" y1="0" x2="248.0" y2="0" gradientUnits="userSpaceOnUse"><stop offset="0" stop-color="#F2B097" stop-opacity="0.35"/><stop offset="0.4" stop-color="#F2B097" stop-opacity="0.7"/><stop offset="1" stop-color="#EFA488" stop-opacity="0.95"/></linearGradient>
<path d="M134.33,-2.07 L252.13,29.98" stroke="#F8CDB9" stroke-width="2.2" fill="none" filter="url(#pcb2)" opacity="0.4"/>
<path d="M62.00,8.27 L252.13,51.69" stroke="#FEF0E8" stroke-width="3" fill="none" filter="url(#pcb2)" opacity="0.3"/>
<path d="M62.00,29.98 Q113.67,39.28 144.67,39.70 L252.13,39.70" fill="none" stroke="#FFF1E6" stroke-width="3.2" filter="url(#pcb2)" opacity="0.6"/>
<path d="M68.20,35.15 C103.33,43.42 155.00,59.54 191.79,70.30 S227.33,77.53 250.07,80.63 L250.07,86.84 L68.82,86.84 L68.82,51.69 Z" fill="#F9D1BB" filter="url(#pcb2)" opacity="0.85"/>
<path d="M68.20,35.15 C103.33,43.42 155.00,59.54 191.79,70.30 S227.33,77.53 250.07,80.63" fill="none" stroke="url(#pcsc)" stroke-width="1.5" filter="url(#pcb1)"/>
<path d="M68.82,51.69 C88.87,56.86 108.50,62.03 128.55,66.57 C146.73,70.30 165.33,74.02 185.38,78.09 C198.40,80.63 214.93,82.08 243.87,82.91" fill="none" stroke="#FEF1EA" stroke-width="2.6" transform="translate(0,-0.8)" filter="url(#pcb1)" opacity="0.9"/>
<g clip-path="url(#pcl)">
<g filter="url(#pcb1)">
<path d="M69.23,51.69L82.43,174.99L78.98,175.32Z" fill="#D75C41"/>
<path d="M69.23,51.69L80.27,175.21L76.82,175.48Z" fill="#D75C41"/>
<path d="M69.23,51.69L78.12,175.39L74.66,175.60Z" fill="#D75C41"/>
<path d="M69.23,51.69L75.96,175.53L72.50,175.68Z" fill="#D75C41"/>
<path d="M69.23,51.69L73.80,175.64L70.33,175.73Z" fill="#D75C41"/>
<path d="M69.23,51.69L71.63,175.71L68.17,175.74Z" fill="#D75C41"/>
<path d="M69.23,51.69L69.47,175.74L66.01,175.71Z" fill="#D75C41"/>
<path d="M69.23,51.69L67.31,175.73L63.84,175.64Z" fill="#D75C41"/>
<path d="M69.23,51.69L65.14,175.68L61.68,175.53Z" fill="#D75C41"/>
<path d="M69.23,51.69L62.98,175.60L59.52,175.39Z" fill="#D75C41"/>
<path d="M69.23,51.69L60.82,175.48L57.37,175.21Z" fill="#D75C41"/>
<path d="M69.23,51.69L58.66,175.32L55.21,174.99Z" fill="#D75C41"/>
<path d="M69.23,51.69L56.50,175.12L53.06,174.73Z" fill="#D75C41"/>
<path d="M69.23,51.69L54.35,174.89L50.92,174.44Z" fill="#D75C41"/>
<path d="M69.23,51.69L52.21,174.62L48.78,174.11Z" fill="#D75C41"/>
<path d="M69.23,51.69L50.06,174.31L46.65,173.74Z" fill="#D75C41"/>
<path d="M69.23,51.69L47.93,173.96L44.52,173.33Z" fill="#D75C41"/>
<path d="M69.23,51.69L45.80,173.58L42.40,172.89Z" fill="#D85D42"/>
<path d="M69.23,51.69L43.67,173.16L40.29,172.41Z" fill="#D85E42"/>
<path d="M69.23,51.69L41.56,172.70L38.19,171.89Z" fill="#D85F43"/>
<path d="M69.23,51.69L39.45,172.21L36.10,171.34Z" fill="#D85F43"/>
<path d="M69.23,51.69L37.35,171.68L34.02,170.75Z" fill="#D96044"/>
<path d="M69.23,51.69L35.27,171.11L31.95,170.13Z" fill="#D96144"/>
<path d="M69.23,51.69L33.19,170.51L29.88,169.46Z" fill="#DA6245"/>
<path d="M69.23,51.69L31.12,169.87L27.84,168.77Z" fill="#DA6245"/>
<path d="M69.23,51.69L29.06,169.19L25.80,168.03Z" fill="#DA6346"/>
<path d="M69.23,51.69L27.02,168.48L23.78,167.26Z" fill="#DA6446"/>
<path d="M69.23,51.69L24.99,167.73L21.77,166.46Z" fill="#DB6547"/>
<path d="M69.23,51.69L22.97,166.95L19.77,165.62Z" fill="#DB6648"/>
<path d="M69.23,51.69L20.97,166.13L17.79,164.75Z" fill="#DC6748"/>
<path d="M69.23,51.69L18.98,165.28L15.83,163.84Z" fill="#DC684A"/>
<path d="M69.23,51.69L17.00,164.39L13.88,162.90Z" fill="#DD6A4A"/>
<path d="M69.23,51.69L15.05,163.47L11.95,161.92Z" fill="#DD6B4C"/>
<path d="M69.23,51.69L13.10,162.51L10.03,160.91Z" fill="#DE6C4C"/>
<path d="M69.23,51.69L11.18,161.52L8.14,159.87Z" fill="#DE6E4E"/>
<path d="M69.23,51.69L9.27,160.50L6.26,158.79Z" fill="#DF6F4E"/>
<path d="M69.23,51.69L7.38,159.44L4.40,157.68Z" fill="#E07050"/>
<path d="M69.23,51.69L5.51,158.35L2.56,156.54Z" fill="#E07150"/>
<path d="M69.23,51.69L3.66,157.23L0.74,155.37Z" fill="#E17352"/>
<path d="M69.23,51.69L1.83,156.08L-1.06,154.16Z" fill="#E17452"/>
<path d="M69.23,51.69L0.02,154.89L-2.83,152.93Z" fill="#E27554"/>
<path d="M69.23,51.69L-1.77,153.67L-4.59,151.66Z" fill="#E27755"/>
<path d="M69.23,51.69L-3.54,152.43L-6.32,150.37Z" fill="#E37856"/>
<path d="M69.23,51.69L-5.29,151.15L-8.03,149.04Z" fill="#E37A57"/>
<path d="M69.23,51.69L-7.01,149.84L-9.72,147.68Z" fill="#E47B59"/>
<path d="M69.23,51.69L-8.71,148.50L-11.38,146.30Z" fill="#E47D5A"/>
<path d="M69.23,51.69L-10.39,147.13L-13.02,144.88Z" fill="#E57E5C"/>
<path d="M69.23,51.69L-12.04,145.73L-14.63,143.44Z" fill="#E6805D"/>
<path d="M69.23,51.69L-13.67,144.31L-16.22,141.97Z" fill="#E6825E"/>
<path d="M69.23,51.69L-15.27,142.85L-17.78,140.47Z" fill="#E78360"/>
<path d="M69.23,51.69L-16.85,141.37L-19.32,138.94Z" fill="#E78561"/>
<path d="M69.23,51.69L-18.40,139.86L-20.83,137.39Z" fill="#E88663"/>
<path d="M69.23,51.69L-19.93,138.33L-22.31,135.81Z" fill="#E88864"/>
<path d="M69.23,51.69L-21.42,136.76L-23.76,134.21Z" fill="#E98965"/>
<path d="M69.23,51.69L-22.89,135.17L-25.19,132.58Z" fill="#E98B67"/>
<path d="M69.23,51.69L-24.34,133.56L-26.59,130.93Z" fill="#EA8C68"/>
<path d="M69.23,51.69L-25.75,131.92L-27.95,129.25Z" fill="#EA8D6A"/>
<path d="M69.23,51.69L-27.14,130.26L-29.29,127.55Z" fill="#EA8F6C"/>
<path d="M69.23,51.69L-28.49,128.57L-30.60,125.82Z" fill="#EB906D"/>
<path d="M69.23,51.69L-29.82,126.86L-31.88,124.08Z" fill="#EB916F"/>
<path d="M69.23,51.69L-31.12,125.13L-33.13,122.31Z" fill="#EC9370"/>
<path d="M69.23,51.69L-32.38,123.37L-34.34,120.52Z" fill="#EC9472"/>
<path d="M69.23,51.69L-33.62,121.59L-35.53,118.70Z" fill="#ED9673"/>
<path d="M69.23,51.69L-34.82,119.79L-36.68,116.87Z" fill="#ED9775"/>
<path d="M69.23,51.69L-35.99,117.97L-37.80,115.02Z" fill="#EE9876"/>
<path d="M69.23,51.69L-37.13,116.13L-38.89,113.15Z" fill="#EE9A78"/>
<path d="M69.23,51.69L-38.24,114.27L-39.95,111.26Z" fill="#EE9B7A"/>
<path d="M69.23,51.69L-39.32,112.40L-40.97,109.35Z" fill="#EF9C7B"/>
<path d="M69.23,51.69L-40.36,110.50L-41.96,107.43Z" fill="#EF9E7D"/>
<path d="M69.23,51.69L-41.37,108.58L-42.91,105.48Z" fill="#EF9F7E"/>
<path d="M69.23,51.69L-42.34,106.65L-43.84,103.52Z" fill="#F0A07F"/>
<path d="M69.23,51.69L-43.29,104.70L-44.72,101.55Z" fill="#F0A181"/>
<path d="M69.23,51.69L-44.19,102.74L-45.57,99.56Z" fill="#F0A282"/>
<path d="M69.23,51.69L-45.07,100.75L-46.39,97.55Z" fill="#F1A383"/>
<path d="M69.23,51.69L-45.91,98.76L-47.18,95.54Z" fill="#F1A485"/>
<path d="M69.23,51.69L-46.71,96.75L-47.92,93.50Z" fill="#F1A686"/>
<path d="M69.23,51.69L-47.48,94.72L-48.63,91.46Z" fill="#F1A788"/>
<path d="M69.23,51.69L-48.21,92.69L-49.31,89.40Z" fill="#F2A889"/>
<path d="M69.23,51.69L-48.91,90.64L-49.95,87.33Z" fill="#F2A98A"/>
<path d="M69.23,51.69L-49.57,88.58L-50.55,85.26Z" fill="#F2AA8C"/>
<path d="M69.23,51.69L-50.20,86.50L-51.12,83.17Z" fill="#F3AB8D"/>
<path d="M69.23,51.69L-50.79,84.42L-51.65,81.07Z" fill="#F3AC8E"/>
<path d="M69.23,51.69L-51.34,82.33L-52.15,78.96Z" fill="#F3AD90"/>
<path d="M69.23,51.69L-51.85,80.23L-52.60,76.84Z" fill="#F3AE91"/>
<path d="M69.23,51.69L-52.33,78.11L-53.02,74.72Z" fill="#F4AF92"/>
<path d="M69.23,51.69L-52.78,75.99L-53.41,72.59Z" fill="#F4B093"/>
<path d="M69.23,51.69L-53.18,73.87L-53.75,70.45Z" fill="#F4B194"/>
<path d="M69.23,51.69L-53.55,71.73L-54.06,68.31Z" fill="#F4B295"/>
<path d="M69.23,51.69L-53.88,69.59L-54.33,66.16Z" fill="#F4B396"/>
<path d="M69.23,51.69L-54.17,67.45L-54.57,64.01Z" fill="#F5B498"/>
<path d="M69.23,51.69L-54.43,65.30L-54.76,61.85Z" fill="#F5B599"/>
<path d="M69.23,51.69L-54.65,63.15L-54.92,59.69Z" fill="#F5B69A"/>
<path d="M69.23,51.69L-54.83,60.99L-55.04,57.53Z" fill="#F5B79B"/>
<path d="M69.23,51.69L-54.97,58.83L-55.13,55.37Z" fill="#F5B89C"/>
<path d="M69.23,51.69L-55.08,56.67L-55.17,53.20Z" fill="#F6B99D"/>
<path d="M69.23,51.69L-55.15,54.50L-55.18,51.04Z" fill="#F6BA9E"/>
<path d="M69.23,51.69L-55.18,52.34L-55.15,48.87Z" fill="#F6BAA0"/>
<path d="M69.23,51.69L-55.17,50.17L-55.08,46.71Z" fill="#F6BBA1"/>
<path d="M69.23,51.69L-55.13,48.01L-54.97,44.55Z" fill="#F6BCA2"/>
<path d="M69.23,51.69L-55.04,45.84L-54.83,42.39Z" fill="#F7BDA3"/>
<path d="M69.23,51.69L-54.92,43.68L-54.65,40.23Z" fill="#F7BEA4"/>
<path d="M69.23,51.69L-54.76,41.52L-54.43,38.07Z" fill="#F7BFA5"/>
<path d="M69.23,51.69L-54.57,39.37L-54.17,35.93Z" fill="#F7C0A6"/>
<path d="M69.23,51.69L-54.33,37.21L-53.88,33.78Z" fill="#F8C1A7"/>
<path d="M69.23,51.69L-54.06,35.07L-53.55,31.64Z" fill="#F8C2A8"/>
<path d="M69.23,51.69L-53.75,32.92L-53.18,29.51Z" fill="#F8C3A9"/>
<path d="M69.23,51.69L-53.41,30.79L-52.78,27.38Z" fill="#F8C2A9"/>
<path d="M69.23,51.69L-53.02,28.66L-52.33,25.26Z" fill="#F8C2A8"/>
<path d="M69.23,51.69L-52.60,26.53L-51.85,23.15Z" fill="#F7C0A7"/>
<path d="M69.23,51.69L-52.15,24.42L-51.34,21.05Z" fill="#F7C0A6"/>
<path d="M69.23,51.69L-51.65,22.31L-50.79,18.95Z" fill="#F7BEA4"/>
<path d="M69.23,51.69L-51.12,20.21L-50.20,16.87Z" fill="#F6BEA3"/>
<path d="M69.23,51.69L-50.55,18.12L-49.57,14.80Z" fill="#F6BCA2"/>
<path d="M69.23,51.69L-49.95,16.04L-48.91,12.74Z" fill="#F6BBA0"/>
<path d="M69.23,51.69L-49.31,13.97L-48.21,10.69Z" fill="#F6BA9E"/>
<path d="M69.23,51.69L-48.63,11.92L-47.48,8.65Z" fill="#F5B89D"/>
<path d="M69.23,51.69L-47.92,9.87L-46.71,6.63Z" fill="#F5B69B"/>
<path d="M69.23,51.69L-47.18,7.84L-45.91,4.62Z" fill="#F5B599"/>
<path d="M69.23,51.69L-46.39,5.82L-45.07,2.62Z" fill="#F4B398"/>
<path d="M69.23,51.69L-45.57,3.82L-44.19,0.64Z" fill="#F4B296"/>
<path d="M69.23,51.69L-44.72,1.83L-43.29,-1.33Z" fill="#F4B094"/>
<path d="M69.23,51.69L-43.84,-0.15L-42.34,-3.28Z" fill="#F4AF92"/>
<path d="M69.23,51.69L-42.91,-2.11L-41.37,-5.21Z" fill="#F3AD91"/>
<path d="M69.23,51.69L-41.96,-4.05L-40.36,-7.12Z" fill="#F3AC8F"/>
<path d="M69.23,51.69L-40.97,-5.98L-39.32,-9.02Z" fill="#F3AB8D"/>
<path d="M69.23,51.69L-39.95,-7.88L-38.24,-10.90Z" fill="#F2A98C"/>
<path d="M69.23,51.69L-38.89,-9.77L-37.13,-12.76Z" fill="#F2A88A"/>
<path d="M69.23,51.69L-37.80,-11.65L-35.99,-14.60Z" fill="#F2A688"/>
<path d="M69.23,51.69L-36.68,-13.50L-34.82,-16.42Z" fill="#F1A586"/>
<path d="M69.23,51.69L-35.53,-15.33L-33.62,-18.22Z" fill="#F1A384"/>
<path d="M69.23,51.69L-34.34,-17.14L-32.38,-20.00Z" fill="#F0A283"/>
<path d="M69.23,51.69L-33.13,-18.93L-31.12,-21.75Z" fill="#F0A081"/>
<path d="M69.23,51.69L-31.88,-20.70L-29.82,-23.49Z" fill="#EF9F7F"/>
<path d="M69.23,51.69L-30.60,-22.45L-28.49,-25.20Z" fill="#EF9D7D"/>
<path d="M69.23,51.69L-29.29,-24.17L-27.14,-26.88Z" fill="#EE9C7B"/>
<path d="M69.23,51.69L-27.95,-25.87L-25.75,-28.55Z" fill="#EE9A79"/>
<path d="M69.23,51.69L-26.59,-27.55L-24.34,-30.19Z" fill="#ED9977"/>
<path d="M69.23,51.69L-25.19,-29.21L-22.89,-31.80Z" fill="#ED9876"/>
<path d="M69.23,51.69L-23.76,-30.83L-21.42,-33.39Z" fill="#ED9876"/>
<path d="M69.23,51.69L-22.31,-32.44L-19.93,-34.95Z" fill="#ED9876"/>
<path d="M69.23,51.69L-20.83,-34.02L-18.40,-36.49Z" fill="#ED9876"/>
<path d="M69.23,51.69L-19.32,-35.57L-16.85,-38.00Z" fill="#ED9876"/>
<path d="M69.23,51.69L-17.78,-37.09L-15.27,-39.48Z" fill="#ED9876"/>
<path d="M69.23,51.69L-16.22,-38.59L-13.67,-40.93Z" fill="#ED9876"/>
<path d="M69.23,51.69L-14.63,-40.06L-12.04,-42.36Z" fill="#ED9876"/>
<path d="M69.23,51.69L-13.02,-41.51L-10.39,-43.76Z" fill="#ED9876"/>
<path d="M69.23,51.69L-11.38,-42.92L-8.71,-45.12Z" fill="#ED9876"/>
<path d="M69.23,51.69L-9.72,-44.31L-7.01,-46.46Z" fill="#ED9876"/>
<path d="M69.23,51.69L-8.03,-45.66L-5.29,-47.77Z" fill="#ED9876"/>
<path d="M69.23,51.69L-6.32,-46.99L-3.54,-49.05Z" fill="#ED9876"/>
<path d="M69.23,51.69L-4.59,-48.29L-1.77,-50.30Z" fill="#ED9876"/>
<path d="M69.23,51.69L-2.83,-49.55L0.02,-51.52Z" fill="#ED9876"/>
<path d="M69.23,51.69L-1.06,-50.79L1.83,-52.70Z" fill="#ED9876"/>
<path d="M69.23,51.69L0.74,-51.99L3.66,-53.86Z" fill="#ED9876"/>
<path d="M69.23,51.69L2.56,-53.17L5.51,-54.98Z" fill="#ED9876"/>
<path d="M69.23,51.69L4.40,-54.31L7.38,-56.07Z" fill="#ED9876"/>
<path d="M69.23,51.69L6.26,-55.42L9.27,-57.12Z" fill="#ED9876"/>
<path d="M69.23,51.69L8.14,-56.49L11.18,-58.15Z" fill="#ED9876"/>
<path d="M69.23,51.69L10.03,-57.54L13.10,-59.14Z" fill="#ED9876"/>
<path d="M69.23,51.69L11.95,-58.55L15.05,-60.09Z" fill="#ED9876"/>
<path d="M69.23,51.69L13.88,-59.52L17.00,-61.01Z" fill="#ED9876"/>
<path d="M69.23,51.69L15.83,-60.46L18.98,-61.90Z" fill="#ED9876"/>
<path d="M69.23,51.69L17.79,-61.37L20.97,-62.75Z" fill="#ED9876"/>
<path d="M69.23,51.69L19.77,-62.25L22.97,-63.57Z" fill="#ED9876"/>
<path d="M69.23,51.69L21.77,-63.08L24.99,-64.35Z" fill="#ED9876"/>
<path d="M69.23,51.69L23.78,-63.89L27.02,-65.10Z" fill="#ED9876"/>
<path d="M69.23,51.69L25.80,-64.66L29.06,-65.81Z" fill="#ED9876"/>
<path d="M69.23,51.69L27.84,-65.39L31.12,-66.49Z" fill="#ED9876"/>
<path d="M69.23,51.69L29.88,-66.09L33.19,-67.13Z" fill="#ED9876"/>
<path d="M69.23,51.69L31.95,-66.75L35.27,-67.73Z" fill="#ED9876"/>
<path d="M69.23,51.69L34.02,-67.38L37.35,-68.30Z" fill="#ED9876"/>
<path d="M69.23,51.69L36.10,-67.97L39.45,-68.83Z" fill="#ED9876"/>
<path d="M69.23,51.69L38.19,-68.52L41.56,-69.33Z" fill="#ED9876"/>
<path d="M69.23,51.69L40.29,-69.04L43.67,-69.79Z" fill="#ED9876"/>
<path d="M69.23,51.69L42.40,-69.52L45.80,-70.21Z" fill="#ED9876"/>
<path d="M69.23,51.69L44.52,-69.96L47.93,-70.59Z" fill="#ED9876"/>
<path d="M69.23,51.69L46.65,-70.36L50.06,-70.94Z" fill="#ED9876"/>
<path d="M69.23,51.69L48.78,-70.73L52.21,-71.24Z" fill="#ED9876"/>
<path d="M69.23,51.69L50.92,-71.06L54.35,-71.52Z" fill="#ED9876"/>
<path d="M69.23,51.69L53.06,-71.36L56.50,-71.75Z" fill="#ED9876"/>
<path d="M69.23,51.69L55.21,-71.61L58.66,-71.95Z" fill="#ED9876"/>
<path d="M69.23,51.69L57.37,-71.83L60.82,-72.10Z" fill="#ED9876"/>
</g>
<rect x="0" y="0" width="248.0" height="82.7" fill="url(#pcbg)"/>
<radialGradient id="pcll" cx="0" cy="0" r="1" gradientTransform="translate(-4.1,33.1) scale(35.1,31.0)" gradientUnits="userSpaceOnUse"><stop offset="0" stop-color="#FDDCCB" stop-opacity="0.75"/><stop offset="0.5" stop-color="#FDDCCB" stop-opacity="0.4"/><stop offset="1" stop-color="#FDDCCB" stop-opacity="0"/></radialGradient>
<rect x="0" y="0" width="248.0" height="82.7" fill="url(#pcll)"/>
<rect x="0" y="0" width="248.0" height="82.7" fill="url(#pcle)"/>
<rect x="0" y="0" width="248.0" height="82.7" fill="url(#pctp)"/>
<clipPath id="pcw"><path d="M6.20,-0.41 Q42.37,25.84 68.82,51.69 L74.40,51.69 L74.40,-12.40 L-8.27,-12.40 L-8.27,-10.96 Z"/></clipPath><clipPath id="pcwb"><path d="M31.62,-0.41 Q54.77,23.78 68.82,51.69 L74.40,51.69 L74.40,-12.40 L20.67,-12.40 L20.67,-11.78 Z"/></clipPath>
<linearGradient id="pcwg" x1="0" y1="0" x2="0" y2="51.7" gradientUnits="userSpaceOnUse"><stop offset="0" stop-color="#EC9068"/><stop offset="0.5" stop-color="#E8825C"/><stop offset="1" stop-color="#DC6848"/></linearGradient>
<path d="M-8.27,-10.96 L6.20,-0.41 Q42.37,25.84 68.82,51.69" fill="none" stroke="#EE9674" stroke-width="3.5" filter="url(#pcb1)" opacity="0.7"/>
<g filter="url(#pcb0)"><g clip-path="url(#pcw)">
<path d="M6.20,-0.41 Q42.37,25.84 68.82,51.69 L74.40,51.69 L74.40,-12.40 L-8.27,-12.40 L-8.27,-10.96 Z" fill="url(#pcwg)"/>
<path d="M-8.27,-10.96 L6.20,-0.41 Q42.37,25.84 68.82,51.69" fill="none" stroke="#D95E40" stroke-width="10" filter="url(#pcb2)"/>
<path d="M-8.27,-10.96 L6.20,-0.41 Q42.37,25.84 68.82,51.69" fill="none" stroke="#D95E40" stroke-width="2.5" filter="url(#pcb0)" opacity="0.7"/>
<g clip-path="url(#pcwb)">
<path d="M31.62,-0.41 Q54.77,23.78 68.82,51.69 L74.40,51.69 L74.40,-12.40 L20.67,-12.40 L20.67,-11.78 Z" fill="#F0A07C" opacity="0.3"/>
<path d="M20.67,-11.78 L31.62,-0.41 Q54.77,23.78 68.82,51.69" fill="none" stroke="#D95F41" stroke-width="4.5" filter="url(#pcb1)" opacity="0.6"/>
</g>
<linearGradient id="pccr" x1="68.8" y1="51.7" x2="51.7" y2="6.2" gradientUnits="userSpaceOnUse"><stop offset="0" stop-color="#C9412F" stop-opacity="1"/><stop offset="0.5" stop-color="#D3513A" stop-opacity="0.9"/><stop offset="1" stop-color="#E27050" stop-opacity="0"/></linearGradient>
<path d="M70.27,53.76 Q71.09,37.21 50.01,0.00 L45.47,0.00 Q64.07,33.08 63.03,51.69 Z" fill="url(#pccr)" filter="url(#pcb1)"/>
</g></g>
<circle cx="68.8" cy="51.7" r="18.6" fill="url(#pcrg)"/>
</g>
<path d="M65.51,82.70 Q69.03,66.16 68.82,51.69 C88.87,56.86 108.50,62.03 128.55,66.57 C146.73,70.30 165.33,74.02 185.38,78.09 C198.40,80.63 214.93,82.08 243.87,82.91 L243.87,86.84 L65.51,86.84 Z" fill="url(#pcbl)"/>
<path d="M68.82,51.69 C88.87,56.86 108.50,62.03 128.55,66.57 C146.73,70.30 165.33,74.02 185.38,78.09 C198.40,80.63 214.93,82.08 243.87,82.91" fill="none" stroke="#FFFFFF" stroke-width="0.9" opacity="0.85"/>
<path d="M65.51,82.70 Q69.03,66.16 68.82,51.69" fill="none" stroke="#F6DDD0" stroke-width="0.8"/>
</g>
<rect x="0" y="0" width="248.0" height="82.7" fill="none" stroke="#555" stroke-width="0.6"/>
</g>
<line x1="21.8" y1="219.7" x2="21.8" y2="222.8" stroke="#111" stroke-width="0.8"/>
<text x="21.8" y="227.4" class="tk" text-anchor="middle">0</text>
<line x1="83.8" y1="219.7" x2="83.8" y2="222.8" stroke="#111" stroke-width="0.8"/>
<text x="83.8" y="227.4" class="tk" text-anchor="middle">3</text>
<line x1="145.8" y1="219.7" x2="145.8" y2="222.8" stroke="#111" stroke-width="0.8"/>
<text x="145.8" y="227.4" class="tk" text-anchor="middle">6</text>
<line x1="207.8" y1="219.7" x2="207.8" y2="222.8" stroke="#111" stroke-width="0.8"/>
<text x="207.8" y="227.4" class="tk" text-anchor="middle">9</text>
<line x1="269.8" y1="219.7" x2="269.8" y2="222.8" stroke="#111" stroke-width="0.8"/>
<text x="269.8" y="227.4" class="tk" text-anchor="middle">12</text>
<line x1="21.8" y1="222.0" x2="23.8" y2="222.0" stroke="#222" stroke-width="0.7"/>
<text x="18.7" y="224.3" class="tk" text-anchor="end">0</text>
<line x1="21.8" y1="201.3" x2="23.8" y2="201.3" stroke="#222" stroke-width="0.7"/>
<text x="18.7" y="203.6" class="tk" text-anchor="end">1</text>
<line x1="21.8" y1="180.7" x2="23.8" y2="180.7" stroke="#222" stroke-width="0.7"/>
<text x="18.7" y="183.0" class="tk" text-anchor="end">2</text>
<line x1="21.8" y1="160.0" x2="23.8" y2="160.0" stroke="#222" stroke-width="0.7"/>
<text x="18.7" y="162.3" class="tk" text-anchor="end">3</text>
<line x1="21.8" y1="139.3" x2="23.8" y2="139.3" stroke="#222" stroke-width="0.7"/>
<text x="18.7" y="141.6" class="tk" text-anchor="end">4</text>
<line x1="21.8" y1="222.0" x2="269.8" y2="222.0" stroke="#1a1a2a" stroke-width="0.8"/>
<text x="145.6" y="235.9" class="al" text-anchor="middle">X (cm)</text>
<text transform="translate(9.8,180.7) rotate(-90)" class="al" text-anchor="middle">Y (cm)</text>
<text x="142.4" y="249.4" class="cap" text-anchor="middle">(c)</text>
<text x="246.8" y="155.9" class="case" style="fill:#111;stroke:#111" text-anchor="middle">Case 5</text>
<g transform="translate(295.6,139.3)">
<defs><clipPath id="pdf"><rect x="0" y="0" width="248.2" height="83.0"/></clipPath>
<filter id="pdb0" x="-50%" y="-50%" width="200%" height="200%"><feGaussianBlur stdDeviation="0.4"/></filter>
<filter id="pdb1" x="-50%" y="-50%" width="200%" height="200%"><feGaussianBlur stdDeviation="0.8"/></filter>
<filter id="pdb2" x="-50%" y="-50%" width="200%" height="200%"><feGaussianBlur stdDeviation="1.5"/></filter>
<filter id="pdb3" x="-50%" y="-50%" width="200%" height="200%"><feGaussianBlur stdDeviation="3.0"/></filter>
<filter id="pdb4" x="-50%" y="-50%" width="200%" height="200%"><feGaussianBlur stdDeviation="6.0"/></filter>
<linearGradient id="pdc1" x1="12.4" y1="0.0" x2="69.5" y2="51.3" gradientUnits="userSpaceOnUse"><stop offset="0" stop-color="#30E8FF" stop-opacity="0"/><stop offset="0.2" stop-color="#90FF80" stop-opacity="0.15"/><stop offset="0.35" stop-color="#E0FF30" stop-opacity="0.6"/><stop offset="0.46" stop-color="#FFF000" stop-opacity="1"/><stop offset="0.62" stop-color="#FFA000" stop-opacity="1"/><stop offset="0.76" stop-color="#FF3000" stop-opacity="1"/><stop offset="0.92" stop-color="#D00000" stop-opacity="1"/><stop offset="1" stop-color="#A00000" stop-opacity="1"/></linearGradient>
<linearGradient id="pdc2" x1="12.4" y1="0.0" x2="69.5" y2="51.3" gradientUnits="userSpaceOnUse"><stop offset="0" stop-color="#10D8FF" stop-opacity="1"/><stop offset="0.12" stop-color="#40FFE0" stop-opacity="1"/><stop offset="0.28" stop-color="#A0FF70" stop-opacity="1"/><stop offset="0.45" stop-color="#F0FF20" stop-opacity="1"/><stop offset="0.7" stop-color="#FFE800" stop-opacity="1"/><stop offset="1" stop-color="#FFD000" stop-opacity="1"/></linearGradient>
<linearGradient id="pdc3" x1="12.4" y1="0.0" x2="69.5" y2="51.3" gradientUnits="userSpaceOnUse"><stop offset="0" stop-color="#00A0FF" stop-opacity="1"/><stop offset="0.3" stop-color="#00C0FF" stop-opacity="1"/><stop offset="0.7" stop-color="#10E0FF" stop-opacity="1"/><stop offset="1" stop-color="#30FFE0" stop-opacity="1"/></linearGradient>
<linearGradient id="pdc4" x1="12.4" y1="0.0" x2="69.5" y2="51.3" gradientUnits="userSpaceOnUse"><stop offset="0" stop-color="#0038F8" stop-opacity="1"/><stop offset="0.4" stop-color="#0048FF" stop-opacity="1"/><stop offset="1" stop-color="#0070FF" stop-opacity="1"/></linearGradient>
<linearGradient id="pdsl" x1="69.5" y1="0" x2="248.2" y2="0" gradientUnits="userSpaceOnUse"><stop offset="0" stop-color="#30B8FF"/><stop offset="0.06" stop-color="#1898FF"/><stop offset="0.35" stop-color="#0C78FF"/><stop offset="1" stop-color="#0860FF"/></linearGradient>
<linearGradient id="pdms" x1="0" y1="51.3" x2="0" y2="83.0" gradientUnits="userSpaceOnUse"><stop offset="0" stop-color="#FF6000"/><stop offset="0.12" stop-color="#FFE000"/><stop offset="0.5" stop-color="#C8FF38"/><stop offset="1" stop-color="#FFD800"/></linearGradient>
</defs>
<g clip-path="url(#pdf)">
<rect x="0" y="0" width="248.2" height="83.0" fill="#00008E"/>
<ellipse cx="47.6" cy="68.5" rx="20.7" ry="18.7" fill="#0010C0" filter="url(#pdb4)" opacity="0.22"/>
<clipPath id="pdcc"><path d="M70.94,52.70 Q74.87,25.94 43.44,-6.22 L-20.68,-6.22 L-20.68,64.33 Z"/></clipPath>
<g clip-path="url(#pdcc)">
<path d="M10.34,-2.07 Q43.44,21.79 69.50,51.25 Q72.81,25.94 39.30,-3.11 Z" fill="url(#pdc4)" filter="url(#pdb1)"/>
<path d="M10.34,-2.07 Q43.44,21.79 69.50,51.25 Q67.22,28.01 26.89,-3.11 Z" fill="url(#pdc3)" filter="url(#pdb2)" opacity="0.9"/>
</g>
<path d="M69.91,51.88 L45.50,64.33 Q41.37,74.70 61.02,87.15 L68.25,87.15 Z" fill="#0040F8" filter="url(#pdb3)" opacity="0.7"/>
<path d="M69.91,51.88 L52.74,62.25 Q47.57,67.44 64.12,85.08 L68.25,85.08 Z" fill="#20D0FF" filter="url(#pdb2)"/>
<path d="M69.50,56.02 L58.95,62.66 Q55.85,66.40 65.15,80.92 Z" fill="#80FFFF" filter="url(#pdb2)" opacity="0.75"/>
<g clip-path="url(#pdcc)">
<path d="M10.41,-5.07 L12.23,-3.94 L14.03,-2.80 L15.83,-1.66 L17.61,-0.51 L19.38,0.65 L21.15,1.82 L22.90,3.00 L24.65,4.18 L26.38,5.37 L28.10,6.57 L29.82,7.78 L31.52,9.00 L33.21,10.22 L34.89,11.45 L36.57,12.69 L38.23,13.93 L39.88,15.19 L41.52,16.45 L43.15,17.72 L44.78,18.99 L46.39,20.28 L47.99,21.57 L49.45,23.01 L50.87,24.50 L52.26,26.02 L53.61,27.56 L54.95,29.11 L56.26,30.68 L57.54,32.27 L58.81,33.87 L60.06,35.48 L61.28,37.11 L62.49,38.74 L63.67,40.38 L64.84,42.04 L65.99,43.70 L67.11,45.38 L68.22,47.06 L69.31,48.75 L70.38,50.44 L68.83,51.86 L67.40,50.51 L65.96,49.17 L64.52,47.84 L63.06,46.51 L61.60,45.19 L60.13,43.87 L58.66,42.56 L57.17,41.26 L55.68,39.96 L54.19,38.66 L52.68,37.37 L51.17,36.09 L49.65,34.81 L48.13,33.53 L46.60,32.26 L45.07,30.98 L43.53,29.71 L42.00,28.43 L40.50,27.10 L38.99,25.79 L37.46,24.48 L35.93,23.18 L34.38,21.89 L32.82,20.60 L31.26,19.32 L29.68,18.04 L28.09,16.78 L26.49,15.52 L24.87,14.26 L23.25,13.01 L21.62,11.77 L19.97,10.54 L18.32,9.31 L16.65,8.09 L14.97,6.88 L13.28,5.68 L11.58,4.48 L9.87,3.28 L8.15,2.10 L6.42,0.92Z" fill="url(#pdc3)" filter="url(#pdb2)"/>
<path d="M9.19,-3.24 L10.97,-2.08 L12.74,-0.91 L14.50,0.26 L16.24,1.45 L17.98,2.63 L19.71,3.83 L21.42,5.04 L23.13,6.25 L24.82,7.47 L26.51,8.69 L28.18,9.93 L29.84,11.17 L31.49,12.42 L33.13,13.67 L34.77,14.94 L36.39,16.21 L37.99,17.48 L39.59,18.77 L41.18,20.06 L42.76,21.36 L44.33,22.67 L45.88,23.98 L47.38,25.36 L48.84,26.77 L50.29,28.19 L51.72,29.62 L53.13,31.07 L54.52,32.53 L55.90,33.99 L57.27,35.47 L58.62,36.96 L59.95,38.45 L61.27,39.96 L62.57,41.47 L63.86,42.99 L65.13,44.52 L66.39,46.06 L67.64,47.60 L68.87,49.15 L70.09,50.71 L68.98,51.72 L67.58,50.35 L66.17,48.98 L64.75,47.61 L63.33,46.25 L61.89,44.90 L60.45,43.56 L59.00,42.22 L57.54,40.89 L56.07,39.56 L54.60,38.24 L53.11,36.92 L51.62,35.61 L50.12,34.31 L48.61,33.00 L47.10,31.71 L45.58,30.41 L44.05,29.12 L42.53,27.82 L41.02,26.50 L39.50,25.19 L37.97,23.88 L36.43,22.58 L34.87,21.29 L33.31,20.00 L31.74,18.72 L30.15,17.44 L28.55,16.18 L26.95,14.92 L25.33,13.67 L23.70,12.42 L22.06,11.18 L20.41,9.95 L18.75,8.72 L17.07,7.50 L15.39,6.29 L13.69,5.09 L11.99,3.89 L10.27,2.70 L8.54,1.51 L6.81,0.34Z" fill="url(#pdc2)" filter="url(#pdb1)"/>
<path d="M7.86,-1.24 Q43.02,22.20 69.50,51.25" fill="none" stroke="url(#pdc1)" stroke-width="1.7" filter="url(#pdb0)"/>
</g>
<path d="M69.50,51.25 Q144.78,65.36 248.20,79.89" fill="none" stroke="#0030D0" stroke-width="1.5" filter="url(#pdb1)" opacity="0.4"/>
<path d="M69.50,51.25 C88.94,56.65 108.59,61.84 128.65,66.40 C146.85,70.14 165.47,73.87 185.53,77.92 C202.70,80.92 223.38,82.38 248.20,83.00" fill="none" stroke="#0038E0" stroke-width="2.6" filter="url(#pdb1)" opacity="0.8"/>
<path d="M69.50,51.25 C88.94,56.65 108.59,61.84 128.65,66.40 C146.85,70.14 165.47,73.87 185.53,77.92 C202.70,80.92 223.38,82.38 248.20,83.00" fill="none" stroke="url(#pdsl)" stroke-width="1.4" filter="url(#pdb0)"/>
<path d="M69.50,51.25 Q69.50,66.40 65.05,83.00" fill="none" stroke="#40FFD0" stroke-width="1.6" filter="url(#pdb0)"/>
<path d="M69.50,51.25 Q69.50,66.40 65.05,83.00" fill="none" stroke="url(#pdms)" stroke-width="0.95"/>
</g>
<rect x="0" y="0" width="248.2" height="83.0" fill="none" stroke="#333" stroke-width="0.6"/>
</g>
<line x1="295.6" y1="220.0" x2="295.6" y2="223.1" stroke="#111" stroke-width="0.8"/>
<text x="295.6" y="227.7" class="tk" text-anchor="middle">0</text>
<line x1="357.7" y1="220.0" x2="357.7" y2="223.1" stroke="#111" stroke-width="0.8"/>
<text x="357.7" y="227.7" class="tk" text-anchor="middle">3</text>
<line x1="419.7" y1="220.0" x2="419.7" y2="223.1" stroke="#111" stroke-width="0.8"/>
<text x="419.7" y="227.7" class="tk" text-anchor="middle">6</text>
<line x1="481.8" y1="220.0" x2="481.8" y2="223.1" stroke="#111" stroke-width="0.8"/>
<text x="481.8" y="227.7" class="tk" text-anchor="middle">9</text>
<line x1="543.8" y1="220.0" x2="543.8" y2="223.1" stroke="#111" stroke-width="0.8"/>
<text x="543.8" y="227.7" class="tk" text-anchor="middle">12</text>
<line x1="295.6" y1="222.3" x2="297.6" y2="222.3" stroke="#222" stroke-width="0.7"/>
<line x1="295.6" y1="201.6" x2="297.6" y2="201.6" stroke="#222" stroke-width="0.7"/>
<text x="292.5" y="203.9" class="tk" text-anchor="end">1</text>
<line x1="295.6" y1="180.8" x2="297.6" y2="180.8" stroke="#222" stroke-width="0.7"/>
<text x="292.5" y="183.1" class="tk" text-anchor="end">2</text>
<line x1="295.6" y1="160.1" x2="297.6" y2="160.1" stroke="#222" stroke-width="0.7"/>
<text x="292.5" y="162.4" class="tk" text-anchor="end">3</text>
<line x1="295.6" y1="139.3" x2="297.6" y2="139.3" stroke="#222" stroke-width="0.7"/>
<text x="292.5" y="141.6" class="tk" text-anchor="end">4</text>
<line x1="295.6" y1="222.3" x2="543.8" y2="222.3" stroke="#1a1a2a" stroke-width="0.8"/>
<text x="419.5" y="236.2" class="al" text-anchor="middle">X (cm)</text>
<text transform="translate(283.6,180.8) rotate(-90)" class="al" text-anchor="middle">Y (cm)</text>
<text x="417.5" y="248.9" class="cap" text-anchor="middle">(d)</text>
<text x="520.8" y="155.9" class="case" style="fill:#fff;stroke:#fff" text-anchor="middle">Case 5</text>
<rect x="162.3" y="261.5" width="245.7" height="98.7" fill="#fff" stroke="#222" stroke-width="0.8"/>
<line x1="162.3" y1="357.7" x2="162.3" y2="360.2" stroke="#222" stroke-width="0.7"/>
<text x="162.3" y="365.9" class="tk2" text-anchor="middle">0</text>
<line x1="223.7" y1="357.7" x2="223.7" y2="360.2" stroke="#222" stroke-width="0.7"/>
<text x="223.7" y="365.9" class="tk2" text-anchor="middle">3</text>
<line x1="285.1" y1="357.7" x2="285.1" y2="360.2" stroke="#222" stroke-width="0.7"/>
<text x="285.1" y="365.9" class="tk2" text-anchor="middle">6</text>
<line x1="346.6" y1="357.7" x2="346.6" y2="360.2" stroke="#222" stroke-width="0.7"/>
<text x="346.6" y="365.9" class="tk2" text-anchor="middle">9</text>
<line x1="408.0" y1="357.7" x2="408.0" y2="360.2" stroke="#222" stroke-width="0.7"/>
<text x="408.0" y="365.9" class="tk2" text-anchor="middle">12</text>
<line x1="162.3" y1="360.2" x2="164.8" y2="360.2" stroke="#222" stroke-width="0.7"/>
<text x="159.5" y="362.2" class="tk2" text-anchor="end">0</text>
<line x1="162.3" y1="346.1" x2="164.8" y2="346.1" stroke="#222" stroke-width="0.7"/>
<text x="159.5" y="348.1" class="tk2" text-anchor="end">500</text>
<line x1="162.3" y1="332.0" x2="164.8" y2="332.0" stroke="#222" stroke-width="0.7"/>
<text x="159.5" y="334.0" class="tk2" text-anchor="end">1000</text>
<line x1="162.3" y1="317.9" x2="164.8" y2="317.9" stroke="#222" stroke-width="0.7"/>
<text x="159.5" y="319.9" class="tk2" text-anchor="end">1500</text>
<line x1="162.3" y1="303.8" x2="164.8" y2="303.8" stroke="#222" stroke-width="0.7"/>
<text x="159.5" y="305.8" class="tk2" text-anchor="end">2000</text>
<line x1="162.3" y1="289.7" x2="164.8" y2="289.7" stroke="#222" stroke-width="0.7"/>
<text x="159.5" y="291.7" class="tk2" text-anchor="end">2500</text>
<line x1="162.3" y1="275.6" x2="164.8" y2="275.6" stroke="#222" stroke-width="0.7"/>
<text x="159.5" y="277.6" class="tk2" text-anchor="end">3000</text>
<line x1="162.3" y1="261.5" x2="164.8" y2="261.5" stroke="#222" stroke-width="0.7"/>
<text x="159.5" y="263.5" class="tk2" text-anchor="end">3500</text>
<line x1="408.0" y1="360.2" x2="405.5" y2="360.2" stroke="#222" stroke-width="0.7"/>
<text x="411.0" y="362.2" class="tk2" text-anchor="start">0</text>
<line x1="408.0" y1="340.5" x2="405.5" y2="340.5" stroke="#222" stroke-width="0.7"/>
<text x="411.0" y="342.5" class="tk2" text-anchor="start">10</text>
<line x1="408.0" y1="320.7" x2="405.5" y2="320.7" stroke="#222" stroke-width="0.7"/>
<text x="411.0" y="322.7" class="tk2" text-anchor="start">20</text>
<line x1="408.0" y1="301.0" x2="405.5" y2="301.0" stroke="#222" stroke-width="0.7"/>
<text x="411.0" y="303.0" class="tk2" text-anchor="start">30</text>
<line x1="408.0" y1="281.2" x2="405.5" y2="281.2" stroke="#222" stroke-width="0.7"/>
<text x="411.0" y="283.2" class="tk2" text-anchor="start">40</text>
<line x1="408.0" y1="261.5" x2="405.5" y2="261.5" stroke="#222" stroke-width="0.7"/>
<text x="411.0" y="263.5" class="tk2" text-anchor="start">50</text>
<text x="285.1" y="373.9" class="al" text-anchor="middle">X (cm)</text>
<text transform="translate(139.6,310.9) rotate(-90)" class="al" text-anchor="middle">Temperature (K)</text>
<text transform="translate(427,310.9) rotate(-90)" class="al" text-anchor="middle">Pressure (atm)</text>
<text x="283.5" y="386.2" class="cap" text-anchor="middle">(e)</text>
<polyline points="162.30,346.86 168.44,345.20 176.63,342.63 182.78,340.46 191.99,336.91 203.25,332.17 211.85,327.83 219.63,323.09 223.73,320.33 225.36,312.82 226.39,293.08 227.21,266.83 227.82,300.98 228.23,352.70 244.20,352.60 285.15,351.91 326.10,350.92 350.67,350.13 367.05,348.55 387.52,347.17 408.00,346.38" fill="none" stroke="#2030F0" stroke-width="1.15" stroke-linejoin="round"/>
<polyline points="162.30,293.17 172.54,291.11 182.78,289.14 193.01,287.30 203.25,285.47 213.49,283.50 221.68,281.52 224.75,280.11 226.39,275.88 227.21,271.93 227.82,278.42 228.23,346.66 244.20,346.66 285.15,346.66 346.57,346.66 350.67,346.38 352.72,343.28 354.36,332.00 355.79,317.90 357.22,308.03 359.47,299.57 361.93,295.90 365.00,293.65 368.28,292.66 374.22,292.24 377.29,290.26 379.74,287.16 381.59,286.03 383.84,287.16 386.50,290.26 389.57,292.52 392.64,293.23 408.00,293.23" fill="none" stroke="#F01818" stroke-width="1.15" stroke-linejoin="round"/>
<polyline points="162.30,346.86 168.44,345.20 176.63,342.63 182.78,340.46 191.99,336.91 203.25,332.17 211.85,327.83 219.63,323.09 223.73,320.33 225.36,312.82 226.39,293.08 227.21,266.83 227.82,300.98 228.23,352.70 244.20,352.60 285.15,351.91 326.10,350.92 350.67,350.13 367.05,348.55 387.52,347.17 408.00,346.38" fill="none" stroke="#20D020" stroke-width="1.15" stroke-dasharray="4 3.2" stroke-linejoin="round"/>
<polyline points="162.30,293.17 172.54,291.11 182.78,289.14 193.01,287.30 203.25,285.47 213.49,283.50 221.68,281.52 224.75,280.11 226.39,275.88 227.21,271.93 227.82,278.42 228.23,346.66 244.20,346.66 285.15,346.66 346.57,346.66 350.67,346.38 352.72,343.28 354.36,332.00 355.79,317.90 357.22,308.03 359.47,299.57 361.93,295.90 365.00,293.65 368.28,292.66 374.22,292.24 377.29,290.26 379.74,287.16 381.59,286.03 383.84,287.16 386.50,290.26 389.57,292.52 392.64,293.23 408.00,293.23" fill="none" stroke="#181818" stroke-width="1.15" stroke-dasharray="4 3.2" stroke-linejoin="round"/>
<line x1="260" y1="272.2" x2="286" y2="272.2" stroke="#2030F0" stroke-width="1.2"/>
<text x="290.6" y="274.4" class="lg">P_Static</text>
<line x1="260" y1="279.4" x2="286" y2="279.4" stroke="#F01818" stroke-width="1.2"/>
<text x="290.6" y="281.6" class="lg">T_Static</text>
<line x1="260" y1="286.6" x2="286" y2="286.6" stroke="#20D020" stroke-width="1.2" stroke-dasharray="4.3 3.3"/>
<text x="290.6" y="288.8" class="lg">P_AMR</text>
<line x1="260" y1="293.8" x2="286" y2="293.8" stroke="#181818" stroke-width="1.2" stroke-dasharray="4.3 3.3"/>
<text x="290.6" y="296.0" class="lg">T_AMR</text>
</svg>
</body></html>
